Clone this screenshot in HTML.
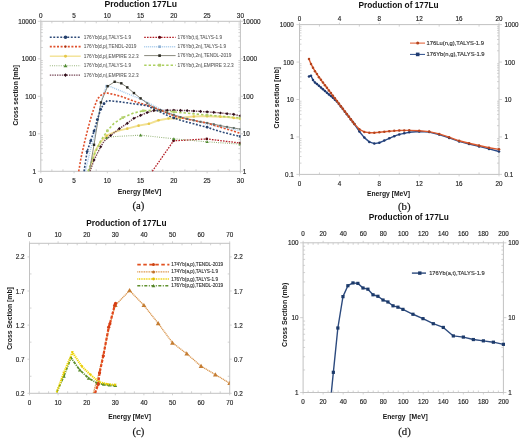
<!DOCTYPE html>
<html><head><meta charset="utf-8"><style>
html,body{margin:0;padding:0;background:#fff;width:520px;height:438px;overflow:hidden}
svg{display:block;filter:blur(0.35px)}
</style></head><body>
<svg width="520" height="438" viewBox="0 0 520 438">
<rect width="520" height="438" fill="#fff"/>
<g>
<line x1="40.8" y1="171.3" x2="40.8" y2="173.3" stroke="#c8c8c8" stroke-width="0.8"/>
<line x1="40.8" y1="21.3" x2="40.8" y2="19.3" stroke="#c8c8c8" stroke-width="0.8"/>
<line x1="51.89" y1="171.3" x2="51.89" y2="169.3" stroke="#c8c8c8" stroke-width="0.8"/>
<line x1="51.89" y1="21.3" x2="51.89" y2="23.3" stroke="#c8c8c8" stroke-width="0.8"/>
<line x1="62.98" y1="171.3" x2="62.98" y2="169.3" stroke="#c8c8c8" stroke-width="0.8"/>
<line x1="62.98" y1="21.3" x2="62.98" y2="23.3" stroke="#c8c8c8" stroke-width="0.8"/>
<line x1="74.06" y1="171.3" x2="74.06" y2="173.3" stroke="#c8c8c8" stroke-width="0.8"/>
<line x1="74.06" y1="21.3" x2="74.06" y2="19.3" stroke="#c8c8c8" stroke-width="0.8"/>
<line x1="85.15" y1="171.3" x2="85.15" y2="169.3" stroke="#c8c8c8" stroke-width="0.8"/>
<line x1="85.15" y1="21.3" x2="85.15" y2="23.3" stroke="#c8c8c8" stroke-width="0.8"/>
<line x1="96.24" y1="171.3" x2="96.24" y2="169.3" stroke="#c8c8c8" stroke-width="0.8"/>
<line x1="96.24" y1="21.3" x2="96.24" y2="23.3" stroke="#c8c8c8" stroke-width="0.8"/>
<line x1="107.33" y1="171.3" x2="107.33" y2="173.3" stroke="#c8c8c8" stroke-width="0.8"/>
<line x1="107.33" y1="21.3" x2="107.33" y2="19.3" stroke="#c8c8c8" stroke-width="0.8"/>
<line x1="118.42" y1="171.3" x2="118.42" y2="169.3" stroke="#c8c8c8" stroke-width="0.8"/>
<line x1="118.42" y1="21.3" x2="118.42" y2="23.3" stroke="#c8c8c8" stroke-width="0.8"/>
<line x1="129.51" y1="171.3" x2="129.51" y2="169.3" stroke="#c8c8c8" stroke-width="0.8"/>
<line x1="129.51" y1="21.3" x2="129.51" y2="23.3" stroke="#c8c8c8" stroke-width="0.8"/>
<line x1="140.59" y1="171.3" x2="140.59" y2="173.3" stroke="#c8c8c8" stroke-width="0.8"/>
<line x1="140.59" y1="21.3" x2="140.59" y2="19.3" stroke="#c8c8c8" stroke-width="0.8"/>
<line x1="151.68" y1="171.3" x2="151.68" y2="169.3" stroke="#c8c8c8" stroke-width="0.8"/>
<line x1="151.68" y1="21.3" x2="151.68" y2="23.3" stroke="#c8c8c8" stroke-width="0.8"/>
<line x1="162.77" y1="171.3" x2="162.77" y2="169.3" stroke="#c8c8c8" stroke-width="0.8"/>
<line x1="162.77" y1="21.3" x2="162.77" y2="23.3" stroke="#c8c8c8" stroke-width="0.8"/>
<line x1="173.86" y1="171.3" x2="173.86" y2="173.3" stroke="#c8c8c8" stroke-width="0.8"/>
<line x1="173.86" y1="21.3" x2="173.86" y2="19.3" stroke="#c8c8c8" stroke-width="0.8"/>
<line x1="184.95" y1="171.3" x2="184.95" y2="169.3" stroke="#c8c8c8" stroke-width="0.8"/>
<line x1="184.95" y1="21.3" x2="184.95" y2="23.3" stroke="#c8c8c8" stroke-width="0.8"/>
<line x1="196.04" y1="171.3" x2="196.04" y2="169.3" stroke="#c8c8c8" stroke-width="0.8"/>
<line x1="196.04" y1="21.3" x2="196.04" y2="23.3" stroke="#c8c8c8" stroke-width="0.8"/>
<line x1="207.12" y1="171.3" x2="207.12" y2="173.3" stroke="#c8c8c8" stroke-width="0.8"/>
<line x1="207.12" y1="21.3" x2="207.12" y2="19.3" stroke="#c8c8c8" stroke-width="0.8"/>
<line x1="218.21" y1="171.3" x2="218.21" y2="169.3" stroke="#c8c8c8" stroke-width="0.8"/>
<line x1="218.21" y1="21.3" x2="218.21" y2="23.3" stroke="#c8c8c8" stroke-width="0.8"/>
<line x1="229.3" y1="171.3" x2="229.3" y2="169.3" stroke="#c8c8c8" stroke-width="0.8"/>
<line x1="229.3" y1="21.3" x2="229.3" y2="23.3" stroke="#c8c8c8" stroke-width="0.8"/>
<line x1="240.39" y1="171.3" x2="240.39" y2="173.3" stroke="#c8c8c8" stroke-width="0.8"/>
<line x1="240.39" y1="21.3" x2="240.39" y2="19.3" stroke="#c8c8c8" stroke-width="0.8"/>
<line x1="40.8" y1="160.01" x2="42.8" y2="160.01" stroke="#c8c8c8" stroke-width="0.8"/>
<line x1="240.4" y1="160.01" x2="238.4" y2="160.01" stroke="#c8c8c8" stroke-width="0.8"/>
<line x1="40.8" y1="153.41" x2="42.8" y2="153.41" stroke="#c8c8c8" stroke-width="0.8"/>
<line x1="240.4" y1="153.41" x2="238.4" y2="153.41" stroke="#c8c8c8" stroke-width="0.8"/>
<line x1="40.8" y1="148.72" x2="42.8" y2="148.72" stroke="#c8c8c8" stroke-width="0.8"/>
<line x1="240.4" y1="148.72" x2="238.4" y2="148.72" stroke="#c8c8c8" stroke-width="0.8"/>
<line x1="40.8" y1="145.09" x2="42.8" y2="145.09" stroke="#c8c8c8" stroke-width="0.8"/>
<line x1="240.4" y1="145.09" x2="238.4" y2="145.09" stroke="#c8c8c8" stroke-width="0.8"/>
<line x1="40.8" y1="142.12" x2="42.8" y2="142.12" stroke="#c8c8c8" stroke-width="0.8"/>
<line x1="240.4" y1="142.12" x2="238.4" y2="142.12" stroke="#c8c8c8" stroke-width="0.8"/>
<line x1="40.8" y1="139.61" x2="42.8" y2="139.61" stroke="#c8c8c8" stroke-width="0.8"/>
<line x1="240.4" y1="139.61" x2="238.4" y2="139.61" stroke="#c8c8c8" stroke-width="0.8"/>
<line x1="40.8" y1="137.43" x2="42.8" y2="137.43" stroke="#c8c8c8" stroke-width="0.8"/>
<line x1="240.4" y1="137.43" x2="238.4" y2="137.43" stroke="#c8c8c8" stroke-width="0.8"/>
<line x1="40.8" y1="135.52" x2="42.8" y2="135.52" stroke="#c8c8c8" stroke-width="0.8"/>
<line x1="240.4" y1="135.52" x2="238.4" y2="135.52" stroke="#c8c8c8" stroke-width="0.8"/>
<line x1="40.8" y1="122.51" x2="42.8" y2="122.51" stroke="#c8c8c8" stroke-width="0.8"/>
<line x1="240.4" y1="122.51" x2="238.4" y2="122.51" stroke="#c8c8c8" stroke-width="0.8"/>
<line x1="40.8" y1="115.91" x2="42.8" y2="115.91" stroke="#c8c8c8" stroke-width="0.8"/>
<line x1="240.4" y1="115.91" x2="238.4" y2="115.91" stroke="#c8c8c8" stroke-width="0.8"/>
<line x1="40.8" y1="111.22" x2="42.8" y2="111.22" stroke="#c8c8c8" stroke-width="0.8"/>
<line x1="240.4" y1="111.22" x2="238.4" y2="111.22" stroke="#c8c8c8" stroke-width="0.8"/>
<line x1="40.8" y1="107.59" x2="42.8" y2="107.59" stroke="#c8c8c8" stroke-width="0.8"/>
<line x1="240.4" y1="107.59" x2="238.4" y2="107.59" stroke="#c8c8c8" stroke-width="0.8"/>
<line x1="40.8" y1="104.62" x2="42.8" y2="104.62" stroke="#c8c8c8" stroke-width="0.8"/>
<line x1="240.4" y1="104.62" x2="238.4" y2="104.62" stroke="#c8c8c8" stroke-width="0.8"/>
<line x1="40.8" y1="102.11" x2="42.8" y2="102.11" stroke="#c8c8c8" stroke-width="0.8"/>
<line x1="240.4" y1="102.11" x2="238.4" y2="102.11" stroke="#c8c8c8" stroke-width="0.8"/>
<line x1="40.8" y1="99.93" x2="42.8" y2="99.93" stroke="#c8c8c8" stroke-width="0.8"/>
<line x1="240.4" y1="99.93" x2="238.4" y2="99.93" stroke="#c8c8c8" stroke-width="0.8"/>
<line x1="40.8" y1="98.02" x2="42.8" y2="98.02" stroke="#c8c8c8" stroke-width="0.8"/>
<line x1="240.4" y1="98.02" x2="238.4" y2="98.02" stroke="#c8c8c8" stroke-width="0.8"/>
<line x1="40.8" y1="85.01" x2="42.8" y2="85.01" stroke="#c8c8c8" stroke-width="0.8"/>
<line x1="240.4" y1="85.01" x2="238.4" y2="85.01" stroke="#c8c8c8" stroke-width="0.8"/>
<line x1="40.8" y1="78.41" x2="42.8" y2="78.41" stroke="#c8c8c8" stroke-width="0.8"/>
<line x1="240.4" y1="78.41" x2="238.4" y2="78.41" stroke="#c8c8c8" stroke-width="0.8"/>
<line x1="40.8" y1="73.72" x2="42.8" y2="73.72" stroke="#c8c8c8" stroke-width="0.8"/>
<line x1="240.4" y1="73.72" x2="238.4" y2="73.72" stroke="#c8c8c8" stroke-width="0.8"/>
<line x1="40.8" y1="70.09" x2="42.8" y2="70.09" stroke="#c8c8c8" stroke-width="0.8"/>
<line x1="240.4" y1="70.09" x2="238.4" y2="70.09" stroke="#c8c8c8" stroke-width="0.8"/>
<line x1="40.8" y1="67.12" x2="42.8" y2="67.12" stroke="#c8c8c8" stroke-width="0.8"/>
<line x1="240.4" y1="67.12" x2="238.4" y2="67.12" stroke="#c8c8c8" stroke-width="0.8"/>
<line x1="40.8" y1="64.61" x2="42.8" y2="64.61" stroke="#c8c8c8" stroke-width="0.8"/>
<line x1="240.4" y1="64.61" x2="238.4" y2="64.61" stroke="#c8c8c8" stroke-width="0.8"/>
<line x1="40.8" y1="62.43" x2="42.8" y2="62.43" stroke="#c8c8c8" stroke-width="0.8"/>
<line x1="240.4" y1="62.43" x2="238.4" y2="62.43" stroke="#c8c8c8" stroke-width="0.8"/>
<line x1="40.8" y1="60.52" x2="42.8" y2="60.52" stroke="#c8c8c8" stroke-width="0.8"/>
<line x1="240.4" y1="60.52" x2="238.4" y2="60.52" stroke="#c8c8c8" stroke-width="0.8"/>
<line x1="40.8" y1="47.51" x2="42.8" y2="47.51" stroke="#c8c8c8" stroke-width="0.8"/>
<line x1="240.4" y1="47.51" x2="238.4" y2="47.51" stroke="#c8c8c8" stroke-width="0.8"/>
<line x1="40.8" y1="40.91" x2="42.8" y2="40.91" stroke="#c8c8c8" stroke-width="0.8"/>
<line x1="240.4" y1="40.91" x2="238.4" y2="40.91" stroke="#c8c8c8" stroke-width="0.8"/>
<line x1="40.8" y1="36.22" x2="42.8" y2="36.22" stroke="#c8c8c8" stroke-width="0.8"/>
<line x1="240.4" y1="36.22" x2="238.4" y2="36.22" stroke="#c8c8c8" stroke-width="0.8"/>
<line x1="40.8" y1="32.59" x2="42.8" y2="32.59" stroke="#c8c8c8" stroke-width="0.8"/>
<line x1="240.4" y1="32.59" x2="238.4" y2="32.59" stroke="#c8c8c8" stroke-width="0.8"/>
<line x1="40.8" y1="29.62" x2="42.8" y2="29.62" stroke="#c8c8c8" stroke-width="0.8"/>
<line x1="240.4" y1="29.62" x2="238.4" y2="29.62" stroke="#c8c8c8" stroke-width="0.8"/>
<line x1="40.8" y1="27.11" x2="42.8" y2="27.11" stroke="#c8c8c8" stroke-width="0.8"/>
<line x1="240.4" y1="27.11" x2="238.4" y2="27.11" stroke="#c8c8c8" stroke-width="0.8"/>
<line x1="40.8" y1="24.93" x2="42.8" y2="24.93" stroke="#c8c8c8" stroke-width="0.8"/>
<line x1="240.4" y1="24.93" x2="238.4" y2="24.93" stroke="#c8c8c8" stroke-width="0.8"/>
<line x1="40.8" y1="23.02" x2="42.8" y2="23.02" stroke="#c8c8c8" stroke-width="0.8"/>
<line x1="240.4" y1="23.02" x2="238.4" y2="23.02" stroke="#c8c8c8" stroke-width="0.8"/>
<line x1="37.8" y1="171.3" x2="40.8" y2="171.3" stroke="#c8c8c8" stroke-width="0.8"/>
<line x1="240.4" y1="171.3" x2="243.4" y2="171.3" stroke="#c8c8c8" stroke-width="0.8"/>
<line x1="37.8" y1="133.8" x2="40.8" y2="133.8" stroke="#c8c8c8" stroke-width="0.8"/>
<line x1="240.4" y1="133.8" x2="243.4" y2="133.8" stroke="#c8c8c8" stroke-width="0.8"/>
<line x1="37.8" y1="96.3" x2="40.8" y2="96.3" stroke="#c8c8c8" stroke-width="0.8"/>
<line x1="240.4" y1="96.3" x2="243.4" y2="96.3" stroke="#c8c8c8" stroke-width="0.8"/>
<line x1="37.8" y1="58.8" x2="40.8" y2="58.8" stroke="#c8c8c8" stroke-width="0.8"/>
<line x1="240.4" y1="58.8" x2="243.4" y2="58.8" stroke="#c8c8c8" stroke-width="0.8"/>
<line x1="37.8" y1="21.3" x2="40.8" y2="21.3" stroke="#c8c8c8" stroke-width="0.8"/>
<line x1="240.4" y1="21.3" x2="243.4" y2="21.3" stroke="#c8c8c8" stroke-width="0.8"/>
<rect x="40.8" y="21.3" width="199.6" height="150" fill="none" stroke="#c2c2c2" stroke-width="1"/>
<text x="40.8" y="15.4" font-family="'Liberation Sans', sans-serif" font-size="6.4" font-weight="normal" text-anchor="middle" dominant-baseline="central" fill="#1e1e1e" stroke="#1e1e1e" stroke-width="0.15">0</text>
<text x="40.8" y="180" font-family="'Liberation Sans', sans-serif" font-size="6.4" font-weight="normal" text-anchor="middle" dominant-baseline="central" fill="#1e1e1e" stroke="#1e1e1e" stroke-width="0.15">0</text>
<text x="74.06" y="15.4" font-family="'Liberation Sans', sans-serif" font-size="6.4" font-weight="normal" text-anchor="middle" dominant-baseline="central" fill="#1e1e1e" stroke="#1e1e1e" stroke-width="0.15">5</text>
<text x="74.06" y="180" font-family="'Liberation Sans', sans-serif" font-size="6.4" font-weight="normal" text-anchor="middle" dominant-baseline="central" fill="#1e1e1e" stroke="#1e1e1e" stroke-width="0.15">5</text>
<text x="107.33" y="15.4" font-family="'Liberation Sans', sans-serif" font-size="6.4" font-weight="normal" text-anchor="middle" dominant-baseline="central" fill="#1e1e1e" stroke="#1e1e1e" stroke-width="0.15">10</text>
<text x="107.33" y="180" font-family="'Liberation Sans', sans-serif" font-size="6.4" font-weight="normal" text-anchor="middle" dominant-baseline="central" fill="#1e1e1e" stroke="#1e1e1e" stroke-width="0.15">10</text>
<text x="140.59" y="15.4" font-family="'Liberation Sans', sans-serif" font-size="6.4" font-weight="normal" text-anchor="middle" dominant-baseline="central" fill="#1e1e1e" stroke="#1e1e1e" stroke-width="0.15">15</text>
<text x="140.59" y="180" font-family="'Liberation Sans', sans-serif" font-size="6.4" font-weight="normal" text-anchor="middle" dominant-baseline="central" fill="#1e1e1e" stroke="#1e1e1e" stroke-width="0.15">15</text>
<text x="173.86" y="15.4" font-family="'Liberation Sans', sans-serif" font-size="6.4" font-weight="normal" text-anchor="middle" dominant-baseline="central" fill="#1e1e1e" stroke="#1e1e1e" stroke-width="0.15">20</text>
<text x="173.86" y="180" font-family="'Liberation Sans', sans-serif" font-size="6.4" font-weight="normal" text-anchor="middle" dominant-baseline="central" fill="#1e1e1e" stroke="#1e1e1e" stroke-width="0.15">20</text>
<text x="207.12" y="15.4" font-family="'Liberation Sans', sans-serif" font-size="6.4" font-weight="normal" text-anchor="middle" dominant-baseline="central" fill="#1e1e1e" stroke="#1e1e1e" stroke-width="0.15">25</text>
<text x="207.12" y="180" font-family="'Liberation Sans', sans-serif" font-size="6.4" font-weight="normal" text-anchor="middle" dominant-baseline="central" fill="#1e1e1e" stroke="#1e1e1e" stroke-width="0.15">25</text>
<text x="240.39" y="15.4" font-family="'Liberation Sans', sans-serif" font-size="6.4" font-weight="normal" text-anchor="middle" dominant-baseline="central" fill="#1e1e1e" stroke="#1e1e1e" stroke-width="0.15">30</text>
<text x="240.39" y="180" font-family="'Liberation Sans', sans-serif" font-size="6.4" font-weight="normal" text-anchor="middle" dominant-baseline="central" fill="#1e1e1e" stroke="#1e1e1e" stroke-width="0.15">30</text>
<text x="36" y="171.3" font-family="'Liberation Sans', sans-serif" font-size="6.4" font-weight="normal" text-anchor="end" dominant-baseline="central" fill="#1e1e1e" stroke="#1e1e1e" stroke-width="0.15">1</text>
<text x="242.8" y="171.3" font-family="'Liberation Sans', sans-serif" font-size="6.4" font-weight="normal" text-anchor="start" dominant-baseline="central" fill="#1e1e1e" stroke="#1e1e1e" stroke-width="0.15">1</text>
<text x="36" y="133.8" font-family="'Liberation Sans', sans-serif" font-size="6.4" font-weight="normal" text-anchor="end" dominant-baseline="central" fill="#1e1e1e" stroke="#1e1e1e" stroke-width="0.15">10</text>
<text x="242.8" y="133.8" font-family="'Liberation Sans', sans-serif" font-size="6.4" font-weight="normal" text-anchor="start" dominant-baseline="central" fill="#1e1e1e" stroke="#1e1e1e" stroke-width="0.15">10</text>
<text x="36" y="96.3" font-family="'Liberation Sans', sans-serif" font-size="6.4" font-weight="normal" text-anchor="end" dominant-baseline="central" fill="#1e1e1e" stroke="#1e1e1e" stroke-width="0.15">100</text>
<text x="242.8" y="96.3" font-family="'Liberation Sans', sans-serif" font-size="6.4" font-weight="normal" text-anchor="start" dominant-baseline="central" fill="#1e1e1e" stroke="#1e1e1e" stroke-width="0.15">100</text>
<text x="36" y="58.8" font-family="'Liberation Sans', sans-serif" font-size="6.4" font-weight="normal" text-anchor="end" dominant-baseline="central" fill="#1e1e1e" stroke="#1e1e1e" stroke-width="0.15">1000</text>
<text x="242.8" y="58.8" font-family="'Liberation Sans', sans-serif" font-size="6.4" font-weight="normal" text-anchor="start" dominant-baseline="central" fill="#1e1e1e" stroke="#1e1e1e" stroke-width="0.15">1000</text>
<text x="36" y="21.3" font-family="'Liberation Sans', sans-serif" font-size="6.4" font-weight="normal" text-anchor="end" dominant-baseline="central" fill="#1e1e1e" stroke="#1e1e1e" stroke-width="0.15">10000</text>
<text x="242.8" y="21.3" font-family="'Liberation Sans', sans-serif" font-size="6.4" font-weight="normal" text-anchor="start" dominant-baseline="central" fill="#1e1e1e" stroke="#1e1e1e" stroke-width="0.15">10000</text>
<text x="140.7" y="4.3" font-family="'Liberation Sans', sans-serif" font-size="8.6" font-weight="bold" text-anchor="middle" dominant-baseline="central" fill="#111">Production 177Lu</text>
<text x="139.5" y="191.5" font-family="'Liberation Sans', sans-serif" font-size="6.8" font-weight="bold" text-anchor="middle" dominant-baseline="central" fill="#151515">Energy [MeV]</text>
<text x="15.2" y="95.2" font-family="'Liberation Sans', sans-serif" font-size="6.7" font-weight="bold" text-anchor="middle" dominant-baseline="central" fill="#151515" transform="rotate(-90 15.2 95.2)">Cross section [mb]</text>
<text x="0" y="0" font-family="'Liberation Serif', serif" font-size="11.0" font-weight="normal" text-anchor="middle" dominant-baseline="central" fill="#151515" transform="translate(138.45 205.3) scale(0.98 1)" stroke="#151515" stroke-width="0.2">(a)</text>
</g>
<g>
<clipPath id="cpa"><rect x="40.8" y="21.3" width="199.60000000000002" height="150.5"/></clipPath>
<g clip-path="url(#cpa)">
<polyline points="152.3,171.3 173.53,140.82 206.79,138.93 240.39,143.1" fill="none" stroke="#b41e26" stroke-width="1.3" stroke-dasharray="1.6,1.2" stroke-linejoin="round"/>
<polyline points="88.7,171.3 94.02,153.41 100.68,140.82 106.66,137.43 113.98,136.64 120.64,136.26 127.29,135.88 133.94,135.52 140.59,135.16 173.86,138.81 207.12,141.85 240.39,144.14" fill="none" stroke="#8fae70" stroke-width="1.1" stroke-dasharray="0.9,1.3" stroke-linejoin="round"/>
<polyline points="89.37,171.3 95.35,150.44 100.68,142.12 106.66,135.7 113.98,132.25 120.64,130.17 127.29,128.67 138.6,125.64 148.91,123.78 158.56,120.24 168.54,118.55 173.86,118.55 180.51,117.93 187.17,117.03 193.82,116.46 200.47,116.18 207.12,116.18 213.78,116.46 220.43,116.74 227.08,117.03 233.74,117.93 240.39,118.88" fill="none" stroke="#f2e192" stroke-width="1.9" stroke-linejoin="round"/>
<polyline points="90.03,171.3 94.02,160.01 100.68,146.8 104,141.32 110.66,135.52 119.31,128.67 127.29,123.35 133.94,118.24 140.59,115.37 147.25,112.49 153.9,110.62 160.55,110.43 167.21,110.24 173.86,110.24 180.51,110.43 187.17,110.62 193.82,111.02 200.47,111.43 207.12,111.85 213.78,112.36 220.43,112.94 227.08,113.63 233.74,114.36 240.39,115.91" fill="none" stroke="#744454" stroke-width="1.4" stroke-dasharray="1.4,1" stroke-linejoin="round"/>
<polyline points="88.04,171.3 94.02,155.12 100.68,140.82 107.33,130.83 113.98,123.35 122.63,117.62 133.94,112.94 143.26,110.82 152.57,110.24 160.55,110.62 173.86,111.85 207.12,115.11 240.39,117.93" fill="none" stroke="#acd060" stroke-width="1.6" stroke-dasharray="2.4,2" stroke-linejoin="round"/>
<polyline points="85.38,171.3 90.7,148.72 94.02,137.43 97.35,122.51 100.68,104.62 104,92.03 106.66,86.02 110.66,86.73 113.98,88.14 120.64,90.82 127.29,93.6 133.94,96.3 140.59,98.95 147.25,102.11 160.55,109.3 173.86,114.86 207.12,124.23 240.39,130.83" fill="none" stroke="#a2c8ea" stroke-width="1.4" stroke-dasharray="1,1" stroke-linejoin="round"/>
<polyline points="89.37,171.3 94.02,144.77 100.88,102.44 107.66,86.19 114.65,81.77 121.3,83.31 127.29,87.37 133.94,93.06 140.59,98.38 147.25,103.32 153.9,107.59 160.55,110.43 167.21,112.94 173.86,114.86 180.51,117.03 187.17,118.88 193.82,120.24 200.47,121.72 207.12,122.92 213.78,124.23 220.43,125.64 227.08,126.87 233.74,127.97 240.39,129.16" fill="none" stroke="#88887c" stroke-width="1.0" stroke-linejoin="round"/>
<polyline points="78.72,171.3 81.05,157.74 84.71,141.32 88.04,128.32 91.36,116.13 94.36,106.95 97.35,99 100.68,95.51 104,93.33 107.33,93.06 113.98,94.45 120.64,96.3 127.29,98.76 133.94,101.2 140.59,103.32 147.25,105.17 153.9,107.59 160.55,110.04 167.21,112.94 173.86,115.91 180.51,117.62 187.17,119.21 193.82,120.59 200.47,121.87 207.12,123.01 213.78,125.16 220.43,127.2 227.08,129.16 233.74,131.24 240.39,133.32" fill="none" stroke="#e0502c" stroke-width="1.6" stroke-dasharray="2,1.6" stroke-linejoin="round"/>
<polyline points="84.04,171.3 87.1,151.61 90.7,140.82 94.02,131.1 97.35,119.54 100.68,109.3 104,103.64 107.33,100.56 113.98,101.2 120.64,101.88 127.29,102.82 133.94,103.82 140.59,104.62 147.25,105.74 153.9,108.95 160.55,112.06 167.21,115.37 173.86,117.93 180.51,120.24 187.17,122.11 193.82,123.78 200.47,125.64 207.12,127.2 213.78,129.53 220.43,131.52 227.08,133.32 233.74,134.98 240.39,136.45" fill="none" stroke="#2e4a78" stroke-width="1.6" stroke-dasharray="1.9,1.6" stroke-linejoin="round"/>
<circle cx="173.53" cy="140.82" r="1.4" fill="#5a0a14"/>
<circle cx="206.79" cy="138.93" r="1.4" fill="#5a0a14"/>
<circle cx="240.39" cy="143.1" r="1.4" fill="#5a0a14"/>
<polygon points="106.66,135.75 108.34,138.69 104.98,138.69" fill="#4f8a30"/>
<polygon points="140.59,133.48 142.27,136.42 138.91,136.42" fill="#4f8a30"/>
<polygon points="173.86,137.13 175.54,140.07 172.18,140.07" fill="#4f8a30"/>
<polygon points="207.12,140.17 208.81,143.11 205.44,143.11" fill="#4f8a30"/>
<polygon points="240.39,142.46 242.07,145.4 238.71,145.4" fill="#4f8a30"/>
<circle cx="106.66" cy="135.7" r="1.3" fill="#e6c84a"/>
<circle cx="127.29" cy="128.67" r="1.3" fill="#e6c84a"/>
<circle cx="138.6" cy="125.64" r="1.3" fill="#e6c84a"/>
<circle cx="148.91" cy="123.78" r="1.3" fill="#e6c84a"/>
<circle cx="158.56" cy="120.24" r="1.3" fill="#e6c84a"/>
<circle cx="168.54" cy="118.55" r="1.3" fill="#e6c84a"/>
<circle cx="180.51" cy="117.93" r="1.3" fill="#e6c84a"/>
<circle cx="193.82" cy="116.46" r="1.3" fill="#e6c84a"/>
<circle cx="207.12" cy="116.18" r="1.3" fill="#e6c84a"/>
<circle cx="220.43" cy="116.74" r="1.3" fill="#e6c84a"/>
<circle cx="233.74" cy="117.93" r="1.3" fill="#e6c84a"/>
<circle cx="240.39" cy="118.88" r="1.3" fill="#e6c84a"/>
<polygon points="94.02,158.45 95.58,160.01 94.02,161.57 92.46,160.01" fill="#2e0c18"/>
<polygon points="100.68,145.24 102.24,146.8 100.68,148.36 99.12,146.8" fill="#2e0c18"/>
<polygon points="110.66,133.96 112.22,135.52 110.66,137.08 109.1,135.52" fill="#2e0c18"/>
<polygon points="119.31,127.11 120.87,128.67 119.31,130.23 117.75,128.67" fill="#2e0c18"/>
<polygon points="127.29,121.79 128.85,123.35 127.29,124.91 125.73,123.35" fill="#2e0c18"/>
<polygon points="133.94,116.68 135.5,118.24 133.94,119.8 132.38,118.24" fill="#2e0c18"/>
<polygon points="140.59,113.81 142.15,115.37 140.59,116.93 139.03,115.37" fill="#2e0c18"/>
<polygon points="147.25,110.93 148.81,112.49 147.25,114.05 145.69,112.49" fill="#2e0c18"/>
<polygon points="153.9,109.06 155.46,110.62 153.9,112.18 152.34,110.62" fill="#2e0c18"/>
<polygon points="160.55,108.87 162.11,110.43 160.55,111.99 158.99,110.43" fill="#2e0c18"/>
<polygon points="167.21,108.68 168.77,110.24 167.21,111.8 165.65,110.24" fill="#2e0c18"/>
<polygon points="173.86,108.68 175.42,110.24 173.86,111.8 172.3,110.24" fill="#2e0c18"/>
<polygon points="180.51,108.87 182.07,110.43 180.51,111.99 178.95,110.43" fill="#2e0c18"/>
<polygon points="187.17,109.06 188.73,110.62 187.17,112.18 185.61,110.62" fill="#2e0c18"/>
<polygon points="193.82,109.46 195.38,111.02 193.82,112.58 192.26,111.02" fill="#2e0c18"/>
<polygon points="200.47,109.87 202.03,111.43 200.47,112.99 198.91,111.43" fill="#2e0c18"/>
<polygon points="207.12,110.29 208.69,111.85 207.12,113.41 205.56,111.85" fill="#2e0c18"/>
<polygon points="213.78,110.8 215.34,112.36 213.78,113.92 212.22,112.36" fill="#2e0c18"/>
<polygon points="220.43,111.38 221.99,112.94 220.43,114.5 218.87,112.94" fill="#2e0c18"/>
<polygon points="227.08,112.07 228.64,113.63 227.08,115.19 225.52,113.63" fill="#2e0c18"/>
<polygon points="233.74,112.8 235.3,114.36 233.74,115.92 232.18,114.36" fill="#2e0c18"/>
<polygon points="240.39,114.35 241.95,115.91 240.39,117.47 238.83,115.91" fill="#2e0c18"/>
<rect x="106.03" y="129.53" width="2.6" height="2.6" fill="#b4d070"/>
<rect x="121.33" y="116.32" width="2.6" height="2.6" fill="#b4d070"/>
<rect x="141.96" y="109.52" width="2.6" height="2.6" fill="#b4d070"/>
<rect x="172.56" y="110.55" width="2.6" height="2.6" fill="#b4d070"/>
<rect x="205.82" y="113.81" width="2.6" height="2.6" fill="#b4d070"/>
<rect x="239.09" y="116.63" width="2.6" height="2.6" fill="#b4d070"/>
<rect x="105.46" y="84.82" width="2.4" height="2.4" fill="#8fb0d2"/>
<rect x="92.82" y="143.57" width="2.4" height="2.4" fill="#2a2a22"/>
<rect x="99.68" y="101.24" width="2.4" height="2.4" fill="#2a2a22"/>
<rect x="106.46" y="84.99" width="2.4" height="2.4" fill="#2a2a22"/>
<rect x="113.45" y="80.57" width="2.4" height="2.4" fill="#2a2a22"/>
<rect x="120.1" y="82.11" width="2.4" height="2.4" fill="#2a2a22"/>
<rect x="126.09" y="86.17" width="2.4" height="2.4" fill="#2a2a22"/>
<rect x="132.74" y="91.86" width="2.4" height="2.4" fill="#2a2a22"/>
<rect x="139.39" y="97.18" width="2.4" height="2.4" fill="#2a2a22"/>
<rect x="146.25" y="102.32" width="2" height="2" fill="#5a6a66"/>
<rect x="152.9" y="106.59" width="2" height="2" fill="#5a6a66"/>
<rect x="159.55" y="109.43" width="2" height="2" fill="#5a6a66"/>
<rect x="166.21" y="111.94" width="2" height="2" fill="#5a6a66"/>
<rect x="172.86" y="113.86" width="2" height="2" fill="#5a6a66"/>
<rect x="179.51" y="116.03" width="2" height="2" fill="#5a6a66"/>
<rect x="186.17" y="117.88" width="2" height="2" fill="#5a6a66"/>
<rect x="192.82" y="119.24" width="2" height="2" fill="#5a6a66"/>
<rect x="199.47" y="120.72" width="2" height="2" fill="#5a6a66"/>
<rect x="206.12" y="121.92" width="2" height="2" fill="#5a6a66"/>
<rect x="212.78" y="123.23" width="2" height="2" fill="#5a6a66"/>
<rect x="219.43" y="124.64" width="2" height="2" fill="#5a6a66"/>
<rect x="226.08" y="125.87" width="2" height="2" fill="#5a6a66"/>
<rect x="232.74" y="126.97" width="2" height="2" fill="#5a6a66"/>
<rect x="239.39" y="128.16" width="2" height="2" fill="#5a6a66"/>
<circle cx="87.1" cy="151.61" r="1.4" fill="#233f6c"/>
<circle cx="90.7" cy="140.82" r="1.4" fill="#233f6c"/>
<circle cx="94.02" cy="131.1" r="1.4" fill="#233f6c"/>
<circle cx="97.35" cy="119.54" r="1.4" fill="#233f6c"/>
<circle cx="100.68" cy="109.3" r="1.4" fill="#233f6c"/>
<circle cx="104" cy="103.64" r="1.4" fill="#233f6c"/>
<circle cx="173.86" cy="117.93" r="1.4" fill="#233f6c"/>
<circle cx="207.12" cy="127.2" r="1.4" fill="#233f6c"/>
<circle cx="240.39" cy="136.45" r="1.4" fill="#233f6c"/>
</g>
<polyline points="49.8,37.2 80.7,37.2" fill="none" stroke="#2e4a78" stroke-width="1.6" stroke-dasharray="1.9,1.6" stroke-linejoin="round"/>
<circle cx="65.5" cy="37.2" r="1.8" fill="#233f6c"/>
<text x="83.8" y="37.2" font-family="'Liberation Sans', sans-serif" font-size="4.75" font-weight="normal" text-anchor="start" dominant-baseline="central" fill="#555" stroke="#555" stroke-width="0.05">176Yb(d,p),TALYS-1.9</text>
<polyline points="49.8,46.6 80.7,46.6" fill="none" stroke="#e0502c" stroke-width="1.6" stroke-dasharray="2,1.6" stroke-linejoin="round"/>
<circle cx="65.5" cy="46.6" r="1.15" fill="#a0300f"/>
<text x="83.8" y="46.6" font-family="'Liberation Sans', sans-serif" font-size="4.75" font-weight="normal" text-anchor="start" dominant-baseline="central" fill="#555" stroke="#555" stroke-width="0.05">176Yb(d,p),TENDL-2019</text>
<polyline points="49.8,56.2 80.7,56.2" fill="none" stroke="#f2e192" stroke-width="1.4" stroke-linejoin="round"/>
<circle cx="65.5" cy="56.2" r="1.4949999999999999" fill="#e6c84a"/>
<text x="83.8" y="56.2" font-family="'Liberation Sans', sans-serif" font-size="4.75" font-weight="normal" text-anchor="start" dominant-baseline="central" fill="#555" stroke="#555" stroke-width="0.05">176Yb(d,p),EMPIRE 3.2.3</text>
<polyline points="49.8,65.7 80.7,65.7" fill="none" stroke="#8fae70" stroke-width="1.1" stroke-dasharray="0.9,1.3" stroke-linejoin="round"/>
<polygon points="65.5,63.77 67.43,67.15 63.57,67.15" fill="#4f8a30"/>
<text x="83.8" y="65.7" font-family="'Liberation Sans', sans-serif" font-size="4.75" font-weight="normal" text-anchor="start" dominant-baseline="central" fill="#555" stroke="#555" stroke-width="0.05">176Yb(d,n),TALYS-1.9</text>
<polyline points="49.8,75.1 80.7,75.1" fill="none" stroke="#744454" stroke-width="1.4" stroke-dasharray="1.4,1" stroke-linejoin="round"/>
<polygon points="65.5,73.31 67.29,75.1 65.5,76.89 63.71,75.1" fill="#2e0c18"/>
<text x="83.8" y="75.1" font-family="'Liberation Sans', sans-serif" font-size="4.75" font-weight="normal" text-anchor="start" dominant-baseline="central" fill="#555" stroke="#555" stroke-width="0.05">176Yb(d,n),EMPIRE 3.2.3</text>
<polyline points="144.2,37.3 175.6,37.3" fill="none" stroke="#b41e26" stroke-width="1.3" stroke-dasharray="1.6,1.2" stroke-linejoin="round"/>
<circle cx="159.6" cy="37.3" r="1.54" fill="#5a0a14"/>
<text x="177.5" y="37.3" font-family="'Liberation Sans', sans-serif" font-size="4.75" font-weight="normal" text-anchor="start" dominant-baseline="central" fill="#555" stroke="#555" stroke-width="0.05">176Yb(t,t),TALYS-1.9</text>
<polyline points="144.2,46.7 175.6,46.7" fill="none" stroke="#a2c8ea" stroke-width="1.4" stroke-dasharray="1,1" stroke-linejoin="round"/>
<rect x="158.28" y="45.38" width="2.64" height="2.64" fill="#8fb0d2"/>
<text x="177.5" y="46.7" font-family="'Liberation Sans', sans-serif" font-size="4.75" font-weight="normal" text-anchor="start" dominant-baseline="central" fill="#555" stroke="#555" stroke-width="0.05">176Yb(t,2n),TALYS-1.9</text>
<polyline points="144.2,55.6 175.6,55.6" fill="none" stroke="#88887c" stroke-width="1.0" stroke-linejoin="round"/>
<rect x="158.28" y="54.28" width="2.64" height="2.64" fill="#2a2a22"/>
<text x="177.5" y="55.6" font-family="'Liberation Sans', sans-serif" font-size="4.75" font-weight="normal" text-anchor="start" dominant-baseline="central" fill="#555" stroke="#555" stroke-width="0.05">176Yb(t,2n),TENDL-2019</text>
<polyline points="144.2,65.2 175.6,65.2" fill="none" stroke="#acd060" stroke-width="1.6" stroke-dasharray="2.4,2" stroke-linejoin="round"/>
<rect x="158.17" y="63.77" width="2.86" height="2.86" fill="#b4d070"/>
<text x="177.5" y="65.2" font-family="'Liberation Sans', sans-serif" font-size="4.75" font-weight="normal" text-anchor="start" dominant-baseline="central" fill="#555" stroke="#555" stroke-width="0.05">176Yb(t,2n),EMPIRE 3.2.3</text>
</g>
<g>
<line x1="299.5" y1="174.4" x2="299.5" y2="176.4" stroke="#c8c8c8" stroke-width="0.8"/>
<line x1="299.5" y1="24.6" x2="299.5" y2="22.6" stroke="#c8c8c8" stroke-width="0.8"/>
<line x1="319.45" y1="174.4" x2="319.45" y2="172.4" stroke="#c8c8c8" stroke-width="0.8"/>
<line x1="319.45" y1="24.6" x2="319.45" y2="26.6" stroke="#c8c8c8" stroke-width="0.8"/>
<line x1="339.4" y1="174.4" x2="339.4" y2="176.4" stroke="#c8c8c8" stroke-width="0.8"/>
<line x1="339.4" y1="24.6" x2="339.4" y2="22.6" stroke="#c8c8c8" stroke-width="0.8"/>
<line x1="359.35" y1="174.4" x2="359.35" y2="172.4" stroke="#c8c8c8" stroke-width="0.8"/>
<line x1="359.35" y1="24.6" x2="359.35" y2="26.6" stroke="#c8c8c8" stroke-width="0.8"/>
<line x1="379.3" y1="174.4" x2="379.3" y2="176.4" stroke="#c8c8c8" stroke-width="0.8"/>
<line x1="379.3" y1="24.6" x2="379.3" y2="22.6" stroke="#c8c8c8" stroke-width="0.8"/>
<line x1="399.25" y1="174.4" x2="399.25" y2="172.4" stroke="#c8c8c8" stroke-width="0.8"/>
<line x1="399.25" y1="24.6" x2="399.25" y2="26.6" stroke="#c8c8c8" stroke-width="0.8"/>
<line x1="419.2" y1="174.4" x2="419.2" y2="176.4" stroke="#c8c8c8" stroke-width="0.8"/>
<line x1="419.2" y1="24.6" x2="419.2" y2="22.6" stroke="#c8c8c8" stroke-width="0.8"/>
<line x1="439.15" y1="174.4" x2="439.15" y2="172.4" stroke="#c8c8c8" stroke-width="0.8"/>
<line x1="439.15" y1="24.6" x2="439.15" y2="26.6" stroke="#c8c8c8" stroke-width="0.8"/>
<line x1="459.1" y1="174.4" x2="459.1" y2="176.4" stroke="#c8c8c8" stroke-width="0.8"/>
<line x1="459.1" y1="24.6" x2="459.1" y2="22.6" stroke="#c8c8c8" stroke-width="0.8"/>
<line x1="479.05" y1="174.4" x2="479.05" y2="172.4" stroke="#c8c8c8" stroke-width="0.8"/>
<line x1="479.05" y1="24.6" x2="479.05" y2="26.6" stroke="#c8c8c8" stroke-width="0.8"/>
<line x1="499" y1="174.4" x2="499" y2="176.4" stroke="#c8c8c8" stroke-width="0.8"/>
<line x1="499" y1="24.6" x2="499" y2="22.6" stroke="#c8c8c8" stroke-width="0.8"/>
<line x1="299.5" y1="163.13" x2="301.5" y2="163.13" stroke="#c8c8c8" stroke-width="0.8"/>
<line x1="499" y1="163.13" x2="497" y2="163.13" stroke="#c8c8c8" stroke-width="0.8"/>
<line x1="299.5" y1="156.53" x2="301.5" y2="156.53" stroke="#c8c8c8" stroke-width="0.8"/>
<line x1="499" y1="156.53" x2="497" y2="156.53" stroke="#c8c8c8" stroke-width="0.8"/>
<line x1="299.5" y1="151.85" x2="301.5" y2="151.85" stroke="#c8c8c8" stroke-width="0.8"/>
<line x1="499" y1="151.85" x2="497" y2="151.85" stroke="#c8c8c8" stroke-width="0.8"/>
<line x1="299.5" y1="148.22" x2="301.5" y2="148.22" stroke="#c8c8c8" stroke-width="0.8"/>
<line x1="499" y1="148.22" x2="497" y2="148.22" stroke="#c8c8c8" stroke-width="0.8"/>
<line x1="299.5" y1="145.26" x2="301.5" y2="145.26" stroke="#c8c8c8" stroke-width="0.8"/>
<line x1="499" y1="145.26" x2="497" y2="145.26" stroke="#c8c8c8" stroke-width="0.8"/>
<line x1="299.5" y1="142.75" x2="301.5" y2="142.75" stroke="#c8c8c8" stroke-width="0.8"/>
<line x1="499" y1="142.75" x2="497" y2="142.75" stroke="#c8c8c8" stroke-width="0.8"/>
<line x1="299.5" y1="140.58" x2="301.5" y2="140.58" stroke="#c8c8c8" stroke-width="0.8"/>
<line x1="499" y1="140.58" x2="497" y2="140.58" stroke="#c8c8c8" stroke-width="0.8"/>
<line x1="299.5" y1="138.66" x2="301.5" y2="138.66" stroke="#c8c8c8" stroke-width="0.8"/>
<line x1="499" y1="138.66" x2="497" y2="138.66" stroke="#c8c8c8" stroke-width="0.8"/>
<line x1="299.5" y1="125.68" x2="301.5" y2="125.68" stroke="#c8c8c8" stroke-width="0.8"/>
<line x1="499" y1="125.68" x2="497" y2="125.68" stroke="#c8c8c8" stroke-width="0.8"/>
<line x1="299.5" y1="119.08" x2="301.5" y2="119.08" stroke="#c8c8c8" stroke-width="0.8"/>
<line x1="499" y1="119.08" x2="497" y2="119.08" stroke="#c8c8c8" stroke-width="0.8"/>
<line x1="299.5" y1="114.4" x2="301.5" y2="114.4" stroke="#c8c8c8" stroke-width="0.8"/>
<line x1="499" y1="114.4" x2="497" y2="114.4" stroke="#c8c8c8" stroke-width="0.8"/>
<line x1="299.5" y1="110.77" x2="301.5" y2="110.77" stroke="#c8c8c8" stroke-width="0.8"/>
<line x1="499" y1="110.77" x2="497" y2="110.77" stroke="#c8c8c8" stroke-width="0.8"/>
<line x1="299.5" y1="107.81" x2="301.5" y2="107.81" stroke="#c8c8c8" stroke-width="0.8"/>
<line x1="499" y1="107.81" x2="497" y2="107.81" stroke="#c8c8c8" stroke-width="0.8"/>
<line x1="299.5" y1="105.3" x2="301.5" y2="105.3" stroke="#c8c8c8" stroke-width="0.8"/>
<line x1="499" y1="105.3" x2="497" y2="105.3" stroke="#c8c8c8" stroke-width="0.8"/>
<line x1="299.5" y1="103.13" x2="301.5" y2="103.13" stroke="#c8c8c8" stroke-width="0.8"/>
<line x1="499" y1="103.13" x2="497" y2="103.13" stroke="#c8c8c8" stroke-width="0.8"/>
<line x1="299.5" y1="101.21" x2="301.5" y2="101.21" stroke="#c8c8c8" stroke-width="0.8"/>
<line x1="499" y1="101.21" x2="497" y2="101.21" stroke="#c8c8c8" stroke-width="0.8"/>
<line x1="299.5" y1="88.23" x2="301.5" y2="88.23" stroke="#c8c8c8" stroke-width="0.8"/>
<line x1="499" y1="88.23" x2="497" y2="88.23" stroke="#c8c8c8" stroke-width="0.8"/>
<line x1="299.5" y1="81.63" x2="301.5" y2="81.63" stroke="#c8c8c8" stroke-width="0.8"/>
<line x1="499" y1="81.63" x2="497" y2="81.63" stroke="#c8c8c8" stroke-width="0.8"/>
<line x1="299.5" y1="76.95" x2="301.5" y2="76.95" stroke="#c8c8c8" stroke-width="0.8"/>
<line x1="499" y1="76.95" x2="497" y2="76.95" stroke="#c8c8c8" stroke-width="0.8"/>
<line x1="299.5" y1="73.32" x2="301.5" y2="73.32" stroke="#c8c8c8" stroke-width="0.8"/>
<line x1="499" y1="73.32" x2="497" y2="73.32" stroke="#c8c8c8" stroke-width="0.8"/>
<line x1="299.5" y1="70.36" x2="301.5" y2="70.36" stroke="#c8c8c8" stroke-width="0.8"/>
<line x1="499" y1="70.36" x2="497" y2="70.36" stroke="#c8c8c8" stroke-width="0.8"/>
<line x1="299.5" y1="67.85" x2="301.5" y2="67.85" stroke="#c8c8c8" stroke-width="0.8"/>
<line x1="499" y1="67.85" x2="497" y2="67.85" stroke="#c8c8c8" stroke-width="0.8"/>
<line x1="299.5" y1="65.68" x2="301.5" y2="65.68" stroke="#c8c8c8" stroke-width="0.8"/>
<line x1="499" y1="65.68" x2="497" y2="65.68" stroke="#c8c8c8" stroke-width="0.8"/>
<line x1="299.5" y1="63.76" x2="301.5" y2="63.76" stroke="#c8c8c8" stroke-width="0.8"/>
<line x1="499" y1="63.76" x2="497" y2="63.76" stroke="#c8c8c8" stroke-width="0.8"/>
<line x1="299.5" y1="50.78" x2="301.5" y2="50.78" stroke="#c8c8c8" stroke-width="0.8"/>
<line x1="499" y1="50.78" x2="497" y2="50.78" stroke="#c8c8c8" stroke-width="0.8"/>
<line x1="299.5" y1="44.18" x2="301.5" y2="44.18" stroke="#c8c8c8" stroke-width="0.8"/>
<line x1="499" y1="44.18" x2="497" y2="44.18" stroke="#c8c8c8" stroke-width="0.8"/>
<line x1="299.5" y1="39.5" x2="301.5" y2="39.5" stroke="#c8c8c8" stroke-width="0.8"/>
<line x1="499" y1="39.5" x2="497" y2="39.5" stroke="#c8c8c8" stroke-width="0.8"/>
<line x1="299.5" y1="35.87" x2="301.5" y2="35.87" stroke="#c8c8c8" stroke-width="0.8"/>
<line x1="499" y1="35.87" x2="497" y2="35.87" stroke="#c8c8c8" stroke-width="0.8"/>
<line x1="299.5" y1="32.91" x2="301.5" y2="32.91" stroke="#c8c8c8" stroke-width="0.8"/>
<line x1="499" y1="32.91" x2="497" y2="32.91" stroke="#c8c8c8" stroke-width="0.8"/>
<line x1="299.5" y1="30.4" x2="301.5" y2="30.4" stroke="#c8c8c8" stroke-width="0.8"/>
<line x1="499" y1="30.4" x2="497" y2="30.4" stroke="#c8c8c8" stroke-width="0.8"/>
<line x1="299.5" y1="28.23" x2="301.5" y2="28.23" stroke="#c8c8c8" stroke-width="0.8"/>
<line x1="499" y1="28.23" x2="497" y2="28.23" stroke="#c8c8c8" stroke-width="0.8"/>
<line x1="299.5" y1="26.31" x2="301.5" y2="26.31" stroke="#c8c8c8" stroke-width="0.8"/>
<line x1="499" y1="26.31" x2="497" y2="26.31" stroke="#c8c8c8" stroke-width="0.8"/>
<line x1="296.5" y1="174.4" x2="299.5" y2="174.4" stroke="#c8c8c8" stroke-width="0.8"/>
<line x1="499" y1="174.4" x2="502" y2="174.4" stroke="#c8c8c8" stroke-width="0.8"/>
<line x1="296.5" y1="136.95" x2="299.5" y2="136.95" stroke="#c8c8c8" stroke-width="0.8"/>
<line x1="499" y1="136.95" x2="502" y2="136.95" stroke="#c8c8c8" stroke-width="0.8"/>
<line x1="296.5" y1="99.5" x2="299.5" y2="99.5" stroke="#c8c8c8" stroke-width="0.8"/>
<line x1="499" y1="99.5" x2="502" y2="99.5" stroke="#c8c8c8" stroke-width="0.8"/>
<line x1="296.5" y1="62.05" x2="299.5" y2="62.05" stroke="#c8c8c8" stroke-width="0.8"/>
<line x1="499" y1="62.05" x2="502" y2="62.05" stroke="#c8c8c8" stroke-width="0.8"/>
<line x1="296.5" y1="24.6" x2="299.5" y2="24.6" stroke="#c8c8c8" stroke-width="0.8"/>
<line x1="499" y1="24.6" x2="502" y2="24.6" stroke="#c8c8c8" stroke-width="0.8"/>
<rect x="299.5" y="24.6" width="199.5" height="149.8" fill="none" stroke="#c2c2c2" stroke-width="1"/>
<text x="299.5" y="18.8" font-family="'Liberation Sans', sans-serif" font-size="6.3" font-weight="normal" text-anchor="middle" dominant-baseline="central" fill="#1e1e1e" stroke="#1e1e1e" stroke-width="0.15">0</text>
<text x="299.5" y="183.6" font-family="'Liberation Sans', sans-serif" font-size="6.3" font-weight="normal" text-anchor="middle" dominant-baseline="central" fill="#1e1e1e" stroke="#1e1e1e" stroke-width="0.15">0</text>
<text x="339.4" y="18.8" font-family="'Liberation Sans', sans-serif" font-size="6.3" font-weight="normal" text-anchor="middle" dominant-baseline="central" fill="#1e1e1e" stroke="#1e1e1e" stroke-width="0.15">4</text>
<text x="339.4" y="183.6" font-family="'Liberation Sans', sans-serif" font-size="6.3" font-weight="normal" text-anchor="middle" dominant-baseline="central" fill="#1e1e1e" stroke="#1e1e1e" stroke-width="0.15">4</text>
<text x="379.3" y="18.8" font-family="'Liberation Sans', sans-serif" font-size="6.3" font-weight="normal" text-anchor="middle" dominant-baseline="central" fill="#1e1e1e" stroke="#1e1e1e" stroke-width="0.15">8</text>
<text x="379.3" y="183.6" font-family="'Liberation Sans', sans-serif" font-size="6.3" font-weight="normal" text-anchor="middle" dominant-baseline="central" fill="#1e1e1e" stroke="#1e1e1e" stroke-width="0.15">8</text>
<text x="419.2" y="18.8" font-family="'Liberation Sans', sans-serif" font-size="6.3" font-weight="normal" text-anchor="middle" dominant-baseline="central" fill="#1e1e1e" stroke="#1e1e1e" stroke-width="0.15">12</text>
<text x="419.2" y="183.6" font-family="'Liberation Sans', sans-serif" font-size="6.3" font-weight="normal" text-anchor="middle" dominant-baseline="central" fill="#1e1e1e" stroke="#1e1e1e" stroke-width="0.15">12</text>
<text x="459.1" y="18.8" font-family="'Liberation Sans', sans-serif" font-size="6.3" font-weight="normal" text-anchor="middle" dominant-baseline="central" fill="#1e1e1e" stroke="#1e1e1e" stroke-width="0.15">16</text>
<text x="459.1" y="183.6" font-family="'Liberation Sans', sans-serif" font-size="6.3" font-weight="normal" text-anchor="middle" dominant-baseline="central" fill="#1e1e1e" stroke="#1e1e1e" stroke-width="0.15">16</text>
<text x="499" y="18.8" font-family="'Liberation Sans', sans-serif" font-size="6.3" font-weight="normal" text-anchor="middle" dominant-baseline="central" fill="#1e1e1e" stroke="#1e1e1e" stroke-width="0.15">20</text>
<text x="499" y="183.6" font-family="'Liberation Sans', sans-serif" font-size="6.3" font-weight="normal" text-anchor="middle" dominant-baseline="central" fill="#1e1e1e" stroke="#1e1e1e" stroke-width="0.15">20</text>
<text x="293.8" y="174.4" font-family="'Liberation Sans', sans-serif" font-size="6.3" font-weight="normal" text-anchor="end" dominant-baseline="central" fill="#1e1e1e" stroke="#1e1e1e" stroke-width="0.15">0.1</text>
<text x="504.6" y="174.4" font-family="'Liberation Sans', sans-serif" font-size="6.3" font-weight="normal" text-anchor="start" dominant-baseline="central" fill="#1e1e1e" stroke="#1e1e1e" stroke-width="0.15">0.1</text>
<text x="293.8" y="136.95" font-family="'Liberation Sans', sans-serif" font-size="6.3" font-weight="normal" text-anchor="end" dominant-baseline="central" fill="#1e1e1e" stroke="#1e1e1e" stroke-width="0.15">1</text>
<text x="504.6" y="136.95" font-family="'Liberation Sans', sans-serif" font-size="6.3" font-weight="normal" text-anchor="start" dominant-baseline="central" fill="#1e1e1e" stroke="#1e1e1e" stroke-width="0.15">1</text>
<text x="293.8" y="99.5" font-family="'Liberation Sans', sans-serif" font-size="6.3" font-weight="normal" text-anchor="end" dominant-baseline="central" fill="#1e1e1e" stroke="#1e1e1e" stroke-width="0.15">10</text>
<text x="504.6" y="99.5" font-family="'Liberation Sans', sans-serif" font-size="6.3" font-weight="normal" text-anchor="start" dominant-baseline="central" fill="#1e1e1e" stroke="#1e1e1e" stroke-width="0.15">10</text>
<text x="293.8" y="62.05" font-family="'Liberation Sans', sans-serif" font-size="6.3" font-weight="normal" text-anchor="end" dominant-baseline="central" fill="#1e1e1e" stroke="#1e1e1e" stroke-width="0.15">100</text>
<text x="504.6" y="62.05" font-family="'Liberation Sans', sans-serif" font-size="6.3" font-weight="normal" text-anchor="start" dominant-baseline="central" fill="#1e1e1e" stroke="#1e1e1e" stroke-width="0.15">100</text>
<text x="293.8" y="24.6" font-family="'Liberation Sans', sans-serif" font-size="6.3" font-weight="normal" text-anchor="end" dominant-baseline="central" fill="#1e1e1e" stroke="#1e1e1e" stroke-width="0.15">1000</text>
<text x="504.6" y="24.6" font-family="'Liberation Sans', sans-serif" font-size="6.3" font-weight="normal" text-anchor="start" dominant-baseline="central" fill="#1e1e1e" stroke="#1e1e1e" stroke-width="0.15">1000</text>
<text x="398.6" y="4.6" font-family="'Liberation Sans', sans-serif" font-size="8.3" font-weight="bold" text-anchor="middle" dominant-baseline="central" fill="#111">Production of 177Lu</text>
<text x="388.5" y="193.7" font-family="'Liberation Sans', sans-serif" font-size="6.75" font-weight="bold" text-anchor="middle" dominant-baseline="central" fill="#151515">Energy [MeV]</text>
<text x="277" y="97.7" font-family="'Liberation Sans', sans-serif" font-size="6.8" font-weight="bold" text-anchor="middle" dominant-baseline="central" fill="#151515" transform="rotate(-90 277 97.7)">Cross section [mb]</text>
<text x="0" y="0" font-family="'Liberation Serif', serif" font-size="11.0" font-weight="normal" text-anchor="middle" dominant-baseline="central" fill="#151515" transform="translate(404.25 205.6) scale(0.98 1)" stroke="#151515" stroke-width="0.2">(b)</text>
</g>
<g>
<polyline points="308.98,76.39 310.97,75.73 312.97,80.08 314.96,82.41 316.96,84.12 318.95,85.83 320.95,87.55 322.94,89.26 324.94,90.97 326.93,92.68 328.93,94.4 330.92,96.11 332.92,97.82 334.91,99.64 336.91,101.49 338.9,103.89 340.9,106.48 342.89,109.07 344.89,111.66 346.88,114.24 348.88,116.83 350.87,119.42 352.87,122.01 354.36,123.99 359.35,131.48 364.34,137.61 369.32,141.89 374.31,143.61 379.3,142.75 384.29,140.58 389.27,138.31 394.26,136.16 399.25,134.4 404.24,133.35 409.23,132.31 419.2,131.48 429.17,132.07 439.15,134.54 449.12,137.96 459.1,141.41 469.07,143.96 479.05,146.38 489.02,148.89 499,151.45" fill="none" stroke="#2c4d8a" stroke-width="1.4" stroke-linejoin="round"/>
<circle cx="308.98" cy="76.39" r="1.25" fill="#1f3a70"/>
<circle cx="310.97" cy="75.73" r="1.25" fill="#1f3a70"/>
<circle cx="312.97" cy="80.08" r="1.25" fill="#1f3a70"/>
<circle cx="314.96" cy="82.41" r="1.25" fill="#1f3a70"/>
<circle cx="316.96" cy="84.12" r="1.25" fill="#1f3a70"/>
<circle cx="318.95" cy="85.83" r="1.25" fill="#1f3a70"/>
<circle cx="320.95" cy="87.55" r="1.25" fill="#1f3a70"/>
<circle cx="322.94" cy="89.26" r="1.25" fill="#1f3a70"/>
<circle cx="324.94" cy="90.97" r="1.25" fill="#1f3a70"/>
<circle cx="326.93" cy="92.68" r="1.25" fill="#1f3a70"/>
<circle cx="328.93" cy="94.4" r="1.25" fill="#1f3a70"/>
<circle cx="330.92" cy="96.11" r="1.25" fill="#1f3a70"/>
<circle cx="332.92" cy="97.82" r="1.25" fill="#1f3a70"/>
<circle cx="334.91" cy="99.64" r="1.25" fill="#1f3a70"/>
<circle cx="336.91" cy="101.49" r="1.25" fill="#1f3a70"/>
<circle cx="338.9" cy="103.89" r="1.25" fill="#1f3a70"/>
<circle cx="340.9" cy="106.48" r="1.25" fill="#1f3a70"/>
<circle cx="342.89" cy="109.07" r="1.25" fill="#1f3a70"/>
<circle cx="344.89" cy="111.66" r="1.25" fill="#1f3a70"/>
<circle cx="346.88" cy="114.24" r="1.25" fill="#1f3a70"/>
<circle cx="348.88" cy="116.83" r="1.25" fill="#1f3a70"/>
<circle cx="350.87" cy="119.42" r="1.25" fill="#1f3a70"/>
<circle cx="352.87" cy="122.01" r="1.25" fill="#1f3a70"/>
<circle cx="354.36" cy="123.99" r="1.25" fill="#1f3a70"/>
<circle cx="359.35" cy="131.48" r="1.25" fill="#1f3a70"/>
<circle cx="364.34" cy="137.61" r="1.25" fill="#1f3a70"/>
<circle cx="369.32" cy="141.89" r="1.25" fill="#1f3a70"/>
<circle cx="374.31" cy="143.61" r="1.25" fill="#1f3a70"/>
<circle cx="379.3" cy="142.75" r="1.25" fill="#1f3a70"/>
<circle cx="384.29" cy="140.58" r="1.25" fill="#1f3a70"/>
<circle cx="389.27" cy="138.31" r="1.25" fill="#1f3a70"/>
<circle cx="394.26" cy="136.16" r="1.25" fill="#1f3a70"/>
<circle cx="399.25" cy="134.4" r="1.25" fill="#1f3a70"/>
<circle cx="404.24" cy="133.35" r="1.25" fill="#1f3a70"/>
<circle cx="409.23" cy="132.31" r="1.25" fill="#1f3a70"/>
<circle cx="419.2" cy="131.48" r="1.25" fill="#1f3a70"/>
<circle cx="429.17" cy="132.07" r="1.25" fill="#1f3a70"/>
<circle cx="439.15" cy="134.54" r="1.25" fill="#1f3a70"/>
<circle cx="449.12" cy="137.96" r="1.25" fill="#1f3a70"/>
<circle cx="459.1" cy="141.41" r="1.25" fill="#1f3a70"/>
<circle cx="469.07" cy="143.96" r="1.25" fill="#1f3a70"/>
<circle cx="479.05" cy="146.38" r="1.25" fill="#1f3a70"/>
<circle cx="489.02" cy="148.89" r="1.25" fill="#1f3a70"/>
<circle cx="499" cy="151.45" r="1.25" fill="#1f3a70"/>
<polyline points="308.98,59.08 310.97,63.92 312.97,67.63 314.96,71.19 316.96,74.12 318.95,77.2 320.95,79.82 322.94,82.54 324.94,85.18 326.93,87.81 328.93,90.44 330.92,93.06 332.92,95.69 334.91,98.32 336.91,100.95 338.9,103.58 340.9,106.21 342.89,108.84 344.89,111.47 346.88,114.09 348.88,116.72 350.87,119.35 352.87,121.98 354.36,123.9 359.35,129.31 364.34,131.95 369.32,132.68 374.31,132.68 379.3,132.31 384.29,131.78 389.27,131.25 394.26,130.86 399.25,130.46 404.24,130.41 409.23,130.36 419.2,130.79 429.17,131.59 439.15,133.92 449.12,137.21 459.1,140.8 469.07,143.2 479.05,145.5 489.02,147.71 499,149.37" fill="none" stroke="#dc5a2e" stroke-width="1.4" stroke-linejoin="round"/>
<circle cx="308.98" cy="59.08" r="1.25" fill="#b4441e"/>
<circle cx="310.97" cy="63.92" r="1.25" fill="#b4441e"/>
<circle cx="312.97" cy="67.63" r="1.25" fill="#b4441e"/>
<circle cx="314.96" cy="71.19" r="1.25" fill="#b4441e"/>
<circle cx="316.96" cy="74.12" r="1.25" fill="#b4441e"/>
<circle cx="318.95" cy="77.2" r="1.25" fill="#b4441e"/>
<circle cx="320.95" cy="79.82" r="1.25" fill="#b4441e"/>
<circle cx="322.94" cy="82.54" r="1.25" fill="#b4441e"/>
<circle cx="324.94" cy="85.18" r="1.25" fill="#b4441e"/>
<circle cx="326.93" cy="87.81" r="1.25" fill="#b4441e"/>
<circle cx="328.93" cy="90.44" r="1.25" fill="#b4441e"/>
<circle cx="330.92" cy="93.06" r="1.25" fill="#b4441e"/>
<circle cx="332.92" cy="95.69" r="1.25" fill="#b4441e"/>
<circle cx="334.91" cy="98.32" r="1.25" fill="#b4441e"/>
<circle cx="336.91" cy="100.95" r="1.25" fill="#b4441e"/>
<circle cx="338.9" cy="103.58" r="1.25" fill="#b4441e"/>
<circle cx="340.9" cy="106.21" r="1.25" fill="#b4441e"/>
<circle cx="342.89" cy="108.84" r="1.25" fill="#b4441e"/>
<circle cx="344.89" cy="111.47" r="1.25" fill="#b4441e"/>
<circle cx="346.88" cy="114.09" r="1.25" fill="#b4441e"/>
<circle cx="348.88" cy="116.72" r="1.25" fill="#b4441e"/>
<circle cx="350.87" cy="119.35" r="1.25" fill="#b4441e"/>
<circle cx="352.87" cy="121.98" r="1.25" fill="#b4441e"/>
<circle cx="354.36" cy="123.9" r="1.25" fill="#b4441e"/>
<circle cx="359.35" cy="129.31" r="1.25" fill="#b4441e"/>
<circle cx="364.34" cy="131.95" r="1.25" fill="#b4441e"/>
<circle cx="369.32" cy="132.68" r="1.25" fill="#b4441e"/>
<circle cx="374.31" cy="132.68" r="1.25" fill="#b4441e"/>
<circle cx="379.3" cy="132.31" r="1.25" fill="#b4441e"/>
<circle cx="384.29" cy="131.78" r="1.25" fill="#b4441e"/>
<circle cx="389.27" cy="131.25" r="1.25" fill="#b4441e"/>
<circle cx="394.26" cy="130.86" r="1.25" fill="#b4441e"/>
<circle cx="399.25" cy="130.46" r="1.25" fill="#b4441e"/>
<circle cx="404.24" cy="130.41" r="1.25" fill="#b4441e"/>
<circle cx="409.23" cy="130.36" r="1.25" fill="#b4441e"/>
<circle cx="419.2" cy="130.79" r="1.25" fill="#b4441e"/>
<circle cx="429.17" cy="131.59" r="1.25" fill="#b4441e"/>
<circle cx="439.15" cy="133.92" r="1.25" fill="#b4441e"/>
<circle cx="449.12" cy="137.21" r="1.25" fill="#b4441e"/>
<circle cx="459.1" cy="140.8" r="1.25" fill="#b4441e"/>
<circle cx="469.07" cy="143.2" r="1.25" fill="#b4441e"/>
<circle cx="479.05" cy="145.5" r="1.25" fill="#b4441e"/>
<circle cx="489.02" cy="147.71" r="1.25" fill="#b4441e"/>
<circle cx="499" cy="149.37" r="1.25" fill="#b4441e"/>
<polyline points="410,43.1 425,43.1" fill="none" stroke="#e0582c" stroke-width="1.0" stroke-linejoin="round"/>
<circle cx="417.7" cy="43.1" r="1.5" fill="#b4441e"/>
<text x="426.5" y="43.1" font-family="'Liberation Sans', sans-serif" font-size="5.83" font-weight="normal" text-anchor="start" dominant-baseline="central" fill="#333" stroke="#333" stroke-width="0.15">176Lu(n,g),TALYS-1.9</text>
<polyline points="410,54.4 425,54.4" fill="none" stroke="#2c4d8a" stroke-width="1.0" stroke-linejoin="round"/>
<rect x="415.9" y="52.6" width="3.6" height="3.6" fill="#1f3a70"/>
<text x="426.5" y="54.4" font-family="'Liberation Sans', sans-serif" font-size="5.83" font-weight="normal" text-anchor="start" dominant-baseline="central" fill="#333" stroke="#333" stroke-width="0.15">176Yb(n,g),TALYS-1.9</text>
</g>
<g>
<line x1="29.5" y1="393.3" x2="29.5" y2="395.3" stroke="#c8c8c8" stroke-width="0.8"/>
<line x1="29.5" y1="243.3" x2="29.5" y2="241.3" stroke="#c8c8c8" stroke-width="0.8"/>
<line x1="39.03" y1="393.3" x2="39.03" y2="391.3" stroke="#c8c8c8" stroke-width="0.8"/>
<line x1="39.03" y1="243.3" x2="39.03" y2="245.3" stroke="#c8c8c8" stroke-width="0.8"/>
<line x1="48.57" y1="393.3" x2="48.57" y2="391.3" stroke="#c8c8c8" stroke-width="0.8"/>
<line x1="48.57" y1="243.3" x2="48.57" y2="245.3" stroke="#c8c8c8" stroke-width="0.8"/>
<line x1="58.1" y1="393.3" x2="58.1" y2="395.3" stroke="#c8c8c8" stroke-width="0.8"/>
<line x1="58.1" y1="243.3" x2="58.1" y2="241.3" stroke="#c8c8c8" stroke-width="0.8"/>
<line x1="67.63" y1="393.3" x2="67.63" y2="391.3" stroke="#c8c8c8" stroke-width="0.8"/>
<line x1="67.63" y1="243.3" x2="67.63" y2="245.3" stroke="#c8c8c8" stroke-width="0.8"/>
<line x1="77.17" y1="393.3" x2="77.17" y2="391.3" stroke="#c8c8c8" stroke-width="0.8"/>
<line x1="77.17" y1="243.3" x2="77.17" y2="245.3" stroke="#c8c8c8" stroke-width="0.8"/>
<line x1="86.7" y1="393.3" x2="86.7" y2="395.3" stroke="#c8c8c8" stroke-width="0.8"/>
<line x1="86.7" y1="243.3" x2="86.7" y2="241.3" stroke="#c8c8c8" stroke-width="0.8"/>
<line x1="96.23" y1="393.3" x2="96.23" y2="391.3" stroke="#c8c8c8" stroke-width="0.8"/>
<line x1="96.23" y1="243.3" x2="96.23" y2="245.3" stroke="#c8c8c8" stroke-width="0.8"/>
<line x1="105.77" y1="393.3" x2="105.77" y2="391.3" stroke="#c8c8c8" stroke-width="0.8"/>
<line x1="105.77" y1="243.3" x2="105.77" y2="245.3" stroke="#c8c8c8" stroke-width="0.8"/>
<line x1="115.3" y1="393.3" x2="115.3" y2="395.3" stroke="#c8c8c8" stroke-width="0.8"/>
<line x1="115.3" y1="243.3" x2="115.3" y2="241.3" stroke="#c8c8c8" stroke-width="0.8"/>
<line x1="124.83" y1="393.3" x2="124.83" y2="391.3" stroke="#c8c8c8" stroke-width="0.8"/>
<line x1="124.83" y1="243.3" x2="124.83" y2="245.3" stroke="#c8c8c8" stroke-width="0.8"/>
<line x1="134.37" y1="393.3" x2="134.37" y2="391.3" stroke="#c8c8c8" stroke-width="0.8"/>
<line x1="134.37" y1="243.3" x2="134.37" y2="245.3" stroke="#c8c8c8" stroke-width="0.8"/>
<line x1="143.9" y1="393.3" x2="143.9" y2="395.3" stroke="#c8c8c8" stroke-width="0.8"/>
<line x1="143.9" y1="243.3" x2="143.9" y2="241.3" stroke="#c8c8c8" stroke-width="0.8"/>
<line x1="153.43" y1="393.3" x2="153.43" y2="391.3" stroke="#c8c8c8" stroke-width="0.8"/>
<line x1="153.43" y1="243.3" x2="153.43" y2="245.3" stroke="#c8c8c8" stroke-width="0.8"/>
<line x1="162.97" y1="393.3" x2="162.97" y2="391.3" stroke="#c8c8c8" stroke-width="0.8"/>
<line x1="162.97" y1="243.3" x2="162.97" y2="245.3" stroke="#c8c8c8" stroke-width="0.8"/>
<line x1="172.5" y1="393.3" x2="172.5" y2="395.3" stroke="#c8c8c8" stroke-width="0.8"/>
<line x1="172.5" y1="243.3" x2="172.5" y2="241.3" stroke="#c8c8c8" stroke-width="0.8"/>
<line x1="182.03" y1="393.3" x2="182.03" y2="391.3" stroke="#c8c8c8" stroke-width="0.8"/>
<line x1="182.03" y1="243.3" x2="182.03" y2="245.3" stroke="#c8c8c8" stroke-width="0.8"/>
<line x1="191.57" y1="393.3" x2="191.57" y2="391.3" stroke="#c8c8c8" stroke-width="0.8"/>
<line x1="191.57" y1="243.3" x2="191.57" y2="245.3" stroke="#c8c8c8" stroke-width="0.8"/>
<line x1="201.1" y1="393.3" x2="201.1" y2="395.3" stroke="#c8c8c8" stroke-width="0.8"/>
<line x1="201.1" y1="243.3" x2="201.1" y2="241.3" stroke="#c8c8c8" stroke-width="0.8"/>
<line x1="210.63" y1="393.3" x2="210.63" y2="391.3" stroke="#c8c8c8" stroke-width="0.8"/>
<line x1="210.63" y1="243.3" x2="210.63" y2="245.3" stroke="#c8c8c8" stroke-width="0.8"/>
<line x1="220.17" y1="393.3" x2="220.17" y2="391.3" stroke="#c8c8c8" stroke-width="0.8"/>
<line x1="220.17" y1="243.3" x2="220.17" y2="245.3" stroke="#c8c8c8" stroke-width="0.8"/>
<line x1="229.7" y1="393.3" x2="229.7" y2="395.3" stroke="#c8c8c8" stroke-width="0.8"/>
<line x1="229.7" y1="243.3" x2="229.7" y2="241.3" stroke="#c8c8c8" stroke-width="0.8"/>
<line x1="27.5" y1="393.3" x2="29.5" y2="393.3" stroke="#c8c8c8" stroke-width="0.8"/>
<line x1="229.7" y1="393.3" x2="231.7" y2="393.3" stroke="#c8c8c8" stroke-width="0.8"/>
<line x1="29.5" y1="376.25" x2="31.5" y2="376.25" stroke="#c8c8c8" stroke-width="0.8"/>
<line x1="227.7" y1="376.25" x2="229.7" y2="376.25" stroke="#c8c8c8" stroke-width="0.8"/>
<line x1="27.5" y1="359.2" x2="29.5" y2="359.2" stroke="#c8c8c8" stroke-width="0.8"/>
<line x1="229.7" y1="359.2" x2="231.7" y2="359.2" stroke="#c8c8c8" stroke-width="0.8"/>
<line x1="29.5" y1="342.15" x2="31.5" y2="342.15" stroke="#c8c8c8" stroke-width="0.8"/>
<line x1="227.7" y1="342.15" x2="229.7" y2="342.15" stroke="#c8c8c8" stroke-width="0.8"/>
<line x1="27.5" y1="325.1" x2="29.5" y2="325.1" stroke="#c8c8c8" stroke-width="0.8"/>
<line x1="229.7" y1="325.1" x2="231.7" y2="325.1" stroke="#c8c8c8" stroke-width="0.8"/>
<line x1="29.5" y1="308.05" x2="31.5" y2="308.05" stroke="#c8c8c8" stroke-width="0.8"/>
<line x1="227.7" y1="308.05" x2="229.7" y2="308.05" stroke="#c8c8c8" stroke-width="0.8"/>
<line x1="27.5" y1="291" x2="29.5" y2="291" stroke="#c8c8c8" stroke-width="0.8"/>
<line x1="229.7" y1="291" x2="231.7" y2="291" stroke="#c8c8c8" stroke-width="0.8"/>
<line x1="29.5" y1="273.95" x2="31.5" y2="273.95" stroke="#c8c8c8" stroke-width="0.8"/>
<line x1="227.7" y1="273.95" x2="229.7" y2="273.95" stroke="#c8c8c8" stroke-width="0.8"/>
<line x1="27.5" y1="256.9" x2="29.5" y2="256.9" stroke="#c8c8c8" stroke-width="0.8"/>
<line x1="229.7" y1="256.9" x2="231.7" y2="256.9" stroke="#c8c8c8" stroke-width="0.8"/>
<rect x="29.5" y="243.3" width="200.2" height="150" fill="none" stroke="#c2c2c2" stroke-width="1"/>
<text x="29.5" y="234.5" font-family="'Liberation Sans', sans-serif" font-size="6.3" font-weight="normal" text-anchor="middle" dominant-baseline="central" fill="#1e1e1e" stroke="#1e1e1e" stroke-width="0.15">0</text>
<text x="29.5" y="402" font-family="'Liberation Sans', sans-serif" font-size="6.3" font-weight="normal" text-anchor="middle" dominant-baseline="central" fill="#1e1e1e" stroke="#1e1e1e" stroke-width="0.15">0</text>
<text x="58.1" y="234.5" font-family="'Liberation Sans', sans-serif" font-size="6.3" font-weight="normal" text-anchor="middle" dominant-baseline="central" fill="#1e1e1e" stroke="#1e1e1e" stroke-width="0.15">10</text>
<text x="58.1" y="402" font-family="'Liberation Sans', sans-serif" font-size="6.3" font-weight="normal" text-anchor="middle" dominant-baseline="central" fill="#1e1e1e" stroke="#1e1e1e" stroke-width="0.15">10</text>
<text x="86.7" y="234.5" font-family="'Liberation Sans', sans-serif" font-size="6.3" font-weight="normal" text-anchor="middle" dominant-baseline="central" fill="#1e1e1e" stroke="#1e1e1e" stroke-width="0.15">20</text>
<text x="86.7" y="402" font-family="'Liberation Sans', sans-serif" font-size="6.3" font-weight="normal" text-anchor="middle" dominant-baseline="central" fill="#1e1e1e" stroke="#1e1e1e" stroke-width="0.15">20</text>
<text x="115.3" y="234.5" font-family="'Liberation Sans', sans-serif" font-size="6.3" font-weight="normal" text-anchor="middle" dominant-baseline="central" fill="#1e1e1e" stroke="#1e1e1e" stroke-width="0.15">30</text>
<text x="115.3" y="402" font-family="'Liberation Sans', sans-serif" font-size="6.3" font-weight="normal" text-anchor="middle" dominant-baseline="central" fill="#1e1e1e" stroke="#1e1e1e" stroke-width="0.15">30</text>
<text x="143.9" y="234.5" font-family="'Liberation Sans', sans-serif" font-size="6.3" font-weight="normal" text-anchor="middle" dominant-baseline="central" fill="#1e1e1e" stroke="#1e1e1e" stroke-width="0.15">40</text>
<text x="143.9" y="402" font-family="'Liberation Sans', sans-serif" font-size="6.3" font-weight="normal" text-anchor="middle" dominant-baseline="central" fill="#1e1e1e" stroke="#1e1e1e" stroke-width="0.15">40</text>
<text x="172.5" y="234.5" font-family="'Liberation Sans', sans-serif" font-size="6.3" font-weight="normal" text-anchor="middle" dominant-baseline="central" fill="#1e1e1e" stroke="#1e1e1e" stroke-width="0.15">50</text>
<text x="172.5" y="402" font-family="'Liberation Sans', sans-serif" font-size="6.3" font-weight="normal" text-anchor="middle" dominant-baseline="central" fill="#1e1e1e" stroke="#1e1e1e" stroke-width="0.15">50</text>
<text x="201.1" y="234.5" font-family="'Liberation Sans', sans-serif" font-size="6.3" font-weight="normal" text-anchor="middle" dominant-baseline="central" fill="#1e1e1e" stroke="#1e1e1e" stroke-width="0.15">60</text>
<text x="201.1" y="402" font-family="'Liberation Sans', sans-serif" font-size="6.3" font-weight="normal" text-anchor="middle" dominant-baseline="central" fill="#1e1e1e" stroke="#1e1e1e" stroke-width="0.15">60</text>
<text x="229.7" y="234.5" font-family="'Liberation Sans', sans-serif" font-size="6.3" font-weight="normal" text-anchor="middle" dominant-baseline="central" fill="#1e1e1e" stroke="#1e1e1e" stroke-width="0.15">70</text>
<text x="229.7" y="402" font-family="'Liberation Sans', sans-serif" font-size="6.3" font-weight="normal" text-anchor="middle" dominant-baseline="central" fill="#1e1e1e" stroke="#1e1e1e" stroke-width="0.15">70</text>
<text x="24.4" y="393.3" font-family="'Liberation Sans', sans-serif" font-size="6.3" font-weight="normal" text-anchor="end" dominant-baseline="central" fill="#1e1e1e" stroke="#1e1e1e" stroke-width="0.15">0.2</text>
<text x="234.1" y="393.3" font-family="'Liberation Sans', sans-serif" font-size="6.3" font-weight="normal" text-anchor="start" dominant-baseline="central" fill="#1e1e1e" stroke="#1e1e1e" stroke-width="0.15">0.2</text>
<text x="24.4" y="359.2" font-family="'Liberation Sans', sans-serif" font-size="6.3" font-weight="normal" text-anchor="end" dominant-baseline="central" fill="#1e1e1e" stroke="#1e1e1e" stroke-width="0.15">0.7</text>
<text x="234.1" y="359.2" font-family="'Liberation Sans', sans-serif" font-size="6.3" font-weight="normal" text-anchor="start" dominant-baseline="central" fill="#1e1e1e" stroke="#1e1e1e" stroke-width="0.15">0.7</text>
<text x="24.4" y="325.1" font-family="'Liberation Sans', sans-serif" font-size="6.3" font-weight="normal" text-anchor="end" dominant-baseline="central" fill="#1e1e1e" stroke="#1e1e1e" stroke-width="0.15">1.2</text>
<text x="234.1" y="325.1" font-family="'Liberation Sans', sans-serif" font-size="6.3" font-weight="normal" text-anchor="start" dominant-baseline="central" fill="#1e1e1e" stroke="#1e1e1e" stroke-width="0.15">1.2</text>
<text x="24.4" y="291" font-family="'Liberation Sans', sans-serif" font-size="6.3" font-weight="normal" text-anchor="end" dominant-baseline="central" fill="#1e1e1e" stroke="#1e1e1e" stroke-width="0.15">1.7</text>
<text x="234.1" y="291" font-family="'Liberation Sans', sans-serif" font-size="6.3" font-weight="normal" text-anchor="start" dominant-baseline="central" fill="#1e1e1e" stroke="#1e1e1e" stroke-width="0.15">1.7</text>
<text x="24.4" y="256.9" font-family="'Liberation Sans', sans-serif" font-size="6.3" font-weight="normal" text-anchor="end" dominant-baseline="central" fill="#1e1e1e" stroke="#1e1e1e" stroke-width="0.15">2.2</text>
<text x="234.1" y="256.9" font-family="'Liberation Sans', sans-serif" font-size="6.3" font-weight="normal" text-anchor="start" dominant-baseline="central" fill="#1e1e1e" stroke="#1e1e1e" stroke-width="0.15">2.2</text>
<text x="126.4" y="223.1" font-family="'Liberation Sans', sans-serif" font-size="8.3" font-weight="bold" text-anchor="middle" dominant-baseline="central" fill="#111">Production of 177Lu</text>
<text x="129.6" y="416.5" font-family="'Liberation Sans', sans-serif" font-size="6.7" font-weight="bold" text-anchor="middle" dominant-baseline="central" fill="#151515">Energy [MeV]</text>
<text x="9.3" y="318.5" font-family="'Liberation Sans', sans-serif" font-size="6.85" font-weight="bold" text-anchor="middle" dominant-baseline="central" fill="#151515" transform="rotate(-90 9.3 318.5)">Cross Section [mb]</text>
<text x="0" y="0" font-family="'Liberation Serif', serif" font-size="11.0" font-weight="normal" text-anchor="middle" dominant-baseline="central" fill="#151515" transform="translate(138.45 430.8) scale(0.98 1)" stroke="#151515" stroke-width="0.2">(c)</text>
</g>
<g>
<clipPath id="cpc"><rect x="29.5" y="243.3" width="200.2" height="150.0"/></clipPath>
<g clip-path="url(#cpc)">
<polyline points="93.28,393.3 98.14,376.25 103.86,352.38 109.58,325.1 115.3,305.32 129.6,290.52 143.9,305.32 158.2,323.33 172.5,342.83 186.8,353.74 201.1,366.22 215.4,374.61 229.7,383.21" fill="none" stroke="#d8934a" stroke-width="1.3" stroke-dasharray="1.2,0.6" stroke-linejoin="round"/>
<polygon points="115.3,302.92 117.7,307.12 112.9,307.12" fill="#c47c32"/>
<polygon points="129.6,288.12 132,292.32 127.2,292.32" fill="#c47c32"/>
<polygon points="143.9,302.92 146.3,307.12 141.5,307.12" fill="#c47c32"/>
<polygon points="158.2,320.93 160.6,325.13 155.8,325.13" fill="#c47c32"/>
<polygon points="172.5,340.43 174.9,344.63 170.1,344.63" fill="#c47c32"/>
<polygon points="186.8,351.34 189.2,355.54 184.4,355.54" fill="#c47c32"/>
<polygon points="201.1,363.82 203.5,368.02 198.7,368.02" fill="#c47c32"/>
<polygon points="215.4,372.21 217.8,376.41 213,376.41" fill="#c47c32"/>
<polygon points="229.7,380.81 232.1,385.01 227.3,385.01" fill="#c47c32"/>
<polyline points="56.67,392.28 63.82,376.25 70.97,357.84 79.84,370.11 88.7,378.3 97.57,383.41 103.86,384.43 109.58,385.12 115.3,385.59" fill="none" stroke="#5e8f2c" stroke-width="1.8" stroke-dasharray="3,1,1,1" stroke-linejoin="round"/>
<polygon points="63.82,374.33 65.74,377.69 61.9,377.69" fill="#5a8a2a"/>
<polygon points="70.97,355.92 72.89,359.28 69.05,359.28" fill="#5a8a2a"/>
<polygon points="79.84,368.19 81.76,371.55 77.92,371.55" fill="#5a8a2a"/>
<polygon points="88.7,376.38 90.62,379.74 86.78,379.74" fill="#5a8a2a"/>
<polygon points="97.57,381.49 99.49,384.85 95.65,384.85" fill="#5a8a2a"/>
<polygon points="103.86,382.51 105.78,385.87 101.94,385.87" fill="#5a8a2a"/>
<polygon points="109.58,383.2 111.5,386.56 107.66,386.56" fill="#5a8a2a"/>
<polygon points="115.3,383.67 117.22,387.03 113.38,387.03" fill="#5a8a2a"/>
<polyline points="56.67,392.28 63.82,372.84 72.4,352.38 81.84,366.43 90.13,374.48 99,381.91 106.72,384.09 115.3,384.91" fill="none" stroke="#efd600" stroke-width="2.1" stroke-dasharray="1.2,0.8" stroke-linejoin="round"/>
<polygon points="63.82,374.28 65.26,371.76 62.38,371.76" fill="#e8c800"/>
<polygon points="72.4,353.82 73.84,351.3 70.96,351.3" fill="#e8c800"/>
<polygon points="81.84,367.87 83.28,365.35 80.4,365.35" fill="#e8c800"/>
<polygon points="90.13,375.92 91.57,373.4 88.69,373.4" fill="#e8c800"/>
<polygon points="99,383.35 100.44,380.83 97.56,380.83" fill="#e8c800"/>
<polygon points="106.72,385.53 108.16,383.01 105.28,383.01" fill="#e8c800"/>
<polygon points="115.3,386.35 116.74,383.83 113.86,383.83" fill="#e8c800"/>
<polyline points="94.99,393.3 98.14,384.43 99.57,372.84 103.29,355.79 108.72,327.15 109.87,323.74 114.73,305.32 115.59,303.28" fill="none" stroke="#e2481c" stroke-width="2.2" stroke-dasharray="3,1.5" stroke-linejoin="round"/>
<circle cx="98.14" cy="384.43" r="1.6" fill="#d63e14"/>
<circle cx="99.57" cy="372.84" r="1.6" fill="#d63e14"/>
<circle cx="103.29" cy="355.79" r="1.6" fill="#d63e14"/>
<circle cx="108.72" cy="327.15" r="1.6" fill="#d63e14"/>
<circle cx="109.87" cy="323.74" r="1.6" fill="#d63e14"/>
<circle cx="114.73" cy="305.32" r="1.6" fill="#d63e14"/>
<circle cx="115.59" cy="303.28" r="1.6" fill="#d63e14"/>
</g>
<polyline points="137.3,264.6 169.4,264.6" fill="none" stroke="#e2501f" stroke-width="1.8" stroke-dasharray="3.5,2.5" stroke-linejoin="round"/>
<circle cx="153.5" cy="264.6" r="1.5" fill="#c8400f"/>
<polyline points="137.3,271.9 169.4,271.9" fill="none" stroke="#d98c3c" stroke-width="1.3" stroke-dasharray="1,0.7" stroke-linejoin="round"/>
<circle cx="153.5" cy="271.9" r="1.5" fill="#c0702a"/>
<polyline points="137.3,279 169.4,279" fill="none" stroke="#efd000" stroke-width="1.6" stroke-dasharray="1,0.7" stroke-linejoin="round"/>
<circle cx="153.5" cy="279" r="1.4" fill="#e0bc00"/>
<polyline points="137.3,285.8 169.4,285.8" fill="none" stroke="#5e8f2c" stroke-width="1.5" stroke-dasharray="3,1.5,1,1.5" stroke-linejoin="round"/>
<polygon points="153.5,284 155.3,287.15 151.7,287.15" fill="#4f7f24"/>
<text x="171.3" y="264.6" font-family="'Liberation Sans', sans-serif" font-size="4.7" font-weight="normal" text-anchor="start" dominant-baseline="central" fill="#303030" stroke="#303030" stroke-width="0.12">174Yb(a,p),TENDL-2019</text>
<text x="171.3" y="271.9" font-family="'Liberation Sans', sans-serif" font-size="4.7" font-weight="normal" text-anchor="start" dominant-baseline="central" fill="#303030" stroke="#303030" stroke-width="0.12">174Yb(a,p),TALYS-1.9</text>
<text x="171.3" y="279" font-family="'Liberation Sans', sans-serif" font-size="4.7" font-weight="normal" text-anchor="start" dominant-baseline="central" fill="#303030" stroke="#303030" stroke-width="0.12">176Yb(p,g),TALYS-1.9</text>
<text x="171.3" y="285.8" font-family="'Liberation Sans', sans-serif" font-size="4.7" font-weight="normal" text-anchor="start" dominant-baseline="central" fill="#303030" stroke="#303030" stroke-width="0.12">176Yb(p,g),TENDL-2019</text>
</g>
<g>
<line x1="303.1" y1="392.5" x2="303.1" y2="394.5" stroke="#c8c8c8" stroke-width="0.8"/>
<line x1="303.1" y1="242.8" x2="303.1" y2="240.8" stroke="#c8c8c8" stroke-width="0.8"/>
<line x1="308.11" y1="392.5" x2="308.11" y2="390.5" stroke="#c8c8c8" stroke-width="0.8"/>
<line x1="308.11" y1="242.8" x2="308.11" y2="244.8" stroke="#c8c8c8" stroke-width="0.8"/>
<line x1="313.12" y1="392.5" x2="313.12" y2="390.5" stroke="#c8c8c8" stroke-width="0.8"/>
<line x1="313.12" y1="242.8" x2="313.12" y2="244.8" stroke="#c8c8c8" stroke-width="0.8"/>
<line x1="318.12" y1="392.5" x2="318.12" y2="390.5" stroke="#c8c8c8" stroke-width="0.8"/>
<line x1="318.12" y1="242.8" x2="318.12" y2="244.8" stroke="#c8c8c8" stroke-width="0.8"/>
<line x1="323.13" y1="392.5" x2="323.13" y2="394.5" stroke="#c8c8c8" stroke-width="0.8"/>
<line x1="323.13" y1="242.8" x2="323.13" y2="240.8" stroke="#c8c8c8" stroke-width="0.8"/>
<line x1="328.14" y1="392.5" x2="328.14" y2="390.5" stroke="#c8c8c8" stroke-width="0.8"/>
<line x1="328.14" y1="242.8" x2="328.14" y2="244.8" stroke="#c8c8c8" stroke-width="0.8"/>
<line x1="333.15" y1="392.5" x2="333.15" y2="390.5" stroke="#c8c8c8" stroke-width="0.8"/>
<line x1="333.15" y1="242.8" x2="333.15" y2="244.8" stroke="#c8c8c8" stroke-width="0.8"/>
<line x1="338.15" y1="392.5" x2="338.15" y2="390.5" stroke="#c8c8c8" stroke-width="0.8"/>
<line x1="338.15" y1="242.8" x2="338.15" y2="244.8" stroke="#c8c8c8" stroke-width="0.8"/>
<line x1="343.16" y1="392.5" x2="343.16" y2="394.5" stroke="#c8c8c8" stroke-width="0.8"/>
<line x1="343.16" y1="242.8" x2="343.16" y2="240.8" stroke="#c8c8c8" stroke-width="0.8"/>
<line x1="348.17" y1="392.5" x2="348.17" y2="390.5" stroke="#c8c8c8" stroke-width="0.8"/>
<line x1="348.17" y1="242.8" x2="348.17" y2="244.8" stroke="#c8c8c8" stroke-width="0.8"/>
<line x1="353.18" y1="392.5" x2="353.18" y2="390.5" stroke="#c8c8c8" stroke-width="0.8"/>
<line x1="353.18" y1="242.8" x2="353.18" y2="244.8" stroke="#c8c8c8" stroke-width="0.8"/>
<line x1="358.18" y1="392.5" x2="358.18" y2="390.5" stroke="#c8c8c8" stroke-width="0.8"/>
<line x1="358.18" y1="242.8" x2="358.18" y2="244.8" stroke="#c8c8c8" stroke-width="0.8"/>
<line x1="363.19" y1="392.5" x2="363.19" y2="394.5" stroke="#c8c8c8" stroke-width="0.8"/>
<line x1="363.19" y1="242.8" x2="363.19" y2="240.8" stroke="#c8c8c8" stroke-width="0.8"/>
<line x1="368.2" y1="392.5" x2="368.2" y2="390.5" stroke="#c8c8c8" stroke-width="0.8"/>
<line x1="368.2" y1="242.8" x2="368.2" y2="244.8" stroke="#c8c8c8" stroke-width="0.8"/>
<line x1="373.21" y1="392.5" x2="373.21" y2="390.5" stroke="#c8c8c8" stroke-width="0.8"/>
<line x1="373.21" y1="242.8" x2="373.21" y2="244.8" stroke="#c8c8c8" stroke-width="0.8"/>
<line x1="378.21" y1="392.5" x2="378.21" y2="390.5" stroke="#c8c8c8" stroke-width="0.8"/>
<line x1="378.21" y1="242.8" x2="378.21" y2="244.8" stroke="#c8c8c8" stroke-width="0.8"/>
<line x1="383.22" y1="392.5" x2="383.22" y2="394.5" stroke="#c8c8c8" stroke-width="0.8"/>
<line x1="383.22" y1="242.8" x2="383.22" y2="240.8" stroke="#c8c8c8" stroke-width="0.8"/>
<line x1="388.23" y1="392.5" x2="388.23" y2="390.5" stroke="#c8c8c8" stroke-width="0.8"/>
<line x1="388.23" y1="242.8" x2="388.23" y2="244.8" stroke="#c8c8c8" stroke-width="0.8"/>
<line x1="393.24" y1="392.5" x2="393.24" y2="390.5" stroke="#c8c8c8" stroke-width="0.8"/>
<line x1="393.24" y1="242.8" x2="393.24" y2="244.8" stroke="#c8c8c8" stroke-width="0.8"/>
<line x1="398.24" y1="392.5" x2="398.24" y2="390.5" stroke="#c8c8c8" stroke-width="0.8"/>
<line x1="398.24" y1="242.8" x2="398.24" y2="244.8" stroke="#c8c8c8" stroke-width="0.8"/>
<line x1="403.25" y1="392.5" x2="403.25" y2="394.5" stroke="#c8c8c8" stroke-width="0.8"/>
<line x1="403.25" y1="242.8" x2="403.25" y2="240.8" stroke="#c8c8c8" stroke-width="0.8"/>
<line x1="408.26" y1="392.5" x2="408.26" y2="390.5" stroke="#c8c8c8" stroke-width="0.8"/>
<line x1="408.26" y1="242.8" x2="408.26" y2="244.8" stroke="#c8c8c8" stroke-width="0.8"/>
<line x1="413.27" y1="392.5" x2="413.27" y2="390.5" stroke="#c8c8c8" stroke-width="0.8"/>
<line x1="413.27" y1="242.8" x2="413.27" y2="244.8" stroke="#c8c8c8" stroke-width="0.8"/>
<line x1="418.27" y1="392.5" x2="418.27" y2="390.5" stroke="#c8c8c8" stroke-width="0.8"/>
<line x1="418.27" y1="242.8" x2="418.27" y2="244.8" stroke="#c8c8c8" stroke-width="0.8"/>
<line x1="423.28" y1="392.5" x2="423.28" y2="394.5" stroke="#c8c8c8" stroke-width="0.8"/>
<line x1="423.28" y1="242.8" x2="423.28" y2="240.8" stroke="#c8c8c8" stroke-width="0.8"/>
<line x1="428.29" y1="392.5" x2="428.29" y2="390.5" stroke="#c8c8c8" stroke-width="0.8"/>
<line x1="428.29" y1="242.8" x2="428.29" y2="244.8" stroke="#c8c8c8" stroke-width="0.8"/>
<line x1="433.3" y1="392.5" x2="433.3" y2="390.5" stroke="#c8c8c8" stroke-width="0.8"/>
<line x1="433.3" y1="242.8" x2="433.3" y2="244.8" stroke="#c8c8c8" stroke-width="0.8"/>
<line x1="438.3" y1="392.5" x2="438.3" y2="390.5" stroke="#c8c8c8" stroke-width="0.8"/>
<line x1="438.3" y1="242.8" x2="438.3" y2="244.8" stroke="#c8c8c8" stroke-width="0.8"/>
<line x1="443.31" y1="392.5" x2="443.31" y2="394.5" stroke="#c8c8c8" stroke-width="0.8"/>
<line x1="443.31" y1="242.8" x2="443.31" y2="240.8" stroke="#c8c8c8" stroke-width="0.8"/>
<line x1="448.32" y1="392.5" x2="448.32" y2="390.5" stroke="#c8c8c8" stroke-width="0.8"/>
<line x1="448.32" y1="242.8" x2="448.32" y2="244.8" stroke="#c8c8c8" stroke-width="0.8"/>
<line x1="453.33" y1="392.5" x2="453.33" y2="390.5" stroke="#c8c8c8" stroke-width="0.8"/>
<line x1="453.33" y1="242.8" x2="453.33" y2="244.8" stroke="#c8c8c8" stroke-width="0.8"/>
<line x1="458.33" y1="392.5" x2="458.33" y2="390.5" stroke="#c8c8c8" stroke-width="0.8"/>
<line x1="458.33" y1="242.8" x2="458.33" y2="244.8" stroke="#c8c8c8" stroke-width="0.8"/>
<line x1="463.34" y1="392.5" x2="463.34" y2="394.5" stroke="#c8c8c8" stroke-width="0.8"/>
<line x1="463.34" y1="242.8" x2="463.34" y2="240.8" stroke="#c8c8c8" stroke-width="0.8"/>
<line x1="468.35" y1="392.5" x2="468.35" y2="390.5" stroke="#c8c8c8" stroke-width="0.8"/>
<line x1="468.35" y1="242.8" x2="468.35" y2="244.8" stroke="#c8c8c8" stroke-width="0.8"/>
<line x1="473.36" y1="392.5" x2="473.36" y2="390.5" stroke="#c8c8c8" stroke-width="0.8"/>
<line x1="473.36" y1="242.8" x2="473.36" y2="244.8" stroke="#c8c8c8" stroke-width="0.8"/>
<line x1="478.36" y1="392.5" x2="478.36" y2="390.5" stroke="#c8c8c8" stroke-width="0.8"/>
<line x1="478.36" y1="242.8" x2="478.36" y2="244.8" stroke="#c8c8c8" stroke-width="0.8"/>
<line x1="483.37" y1="392.5" x2="483.37" y2="394.5" stroke="#c8c8c8" stroke-width="0.8"/>
<line x1="483.37" y1="242.8" x2="483.37" y2="240.8" stroke="#c8c8c8" stroke-width="0.8"/>
<line x1="488.38" y1="392.5" x2="488.38" y2="390.5" stroke="#c8c8c8" stroke-width="0.8"/>
<line x1="488.38" y1="242.8" x2="488.38" y2="244.8" stroke="#c8c8c8" stroke-width="0.8"/>
<line x1="493.39" y1="392.5" x2="493.39" y2="390.5" stroke="#c8c8c8" stroke-width="0.8"/>
<line x1="493.39" y1="242.8" x2="493.39" y2="244.8" stroke="#c8c8c8" stroke-width="0.8"/>
<line x1="498.39" y1="392.5" x2="498.39" y2="390.5" stroke="#c8c8c8" stroke-width="0.8"/>
<line x1="498.39" y1="242.8" x2="498.39" y2="244.8" stroke="#c8c8c8" stroke-width="0.8"/>
<line x1="503.4" y1="392.5" x2="503.4" y2="394.5" stroke="#c8c8c8" stroke-width="0.8"/>
<line x1="503.4" y1="242.8" x2="503.4" y2="240.8" stroke="#c8c8c8" stroke-width="0.8"/>
<line x1="303.1" y1="369.97" x2="305.1" y2="369.97" stroke="#c8c8c8" stroke-width="0.8"/>
<line x1="503.4" y1="369.97" x2="501.4" y2="369.97" stroke="#c8c8c8" stroke-width="0.8"/>
<line x1="303.1" y1="356.79" x2="305.1" y2="356.79" stroke="#c8c8c8" stroke-width="0.8"/>
<line x1="503.4" y1="356.79" x2="501.4" y2="356.79" stroke="#c8c8c8" stroke-width="0.8"/>
<line x1="303.1" y1="347.44" x2="305.1" y2="347.44" stroke="#c8c8c8" stroke-width="0.8"/>
<line x1="503.4" y1="347.44" x2="501.4" y2="347.44" stroke="#c8c8c8" stroke-width="0.8"/>
<line x1="303.1" y1="340.18" x2="305.1" y2="340.18" stroke="#c8c8c8" stroke-width="0.8"/>
<line x1="503.4" y1="340.18" x2="501.4" y2="340.18" stroke="#c8c8c8" stroke-width="0.8"/>
<line x1="303.1" y1="334.26" x2="305.1" y2="334.26" stroke="#c8c8c8" stroke-width="0.8"/>
<line x1="503.4" y1="334.26" x2="501.4" y2="334.26" stroke="#c8c8c8" stroke-width="0.8"/>
<line x1="303.1" y1="329.24" x2="305.1" y2="329.24" stroke="#c8c8c8" stroke-width="0.8"/>
<line x1="503.4" y1="329.24" x2="501.4" y2="329.24" stroke="#c8c8c8" stroke-width="0.8"/>
<line x1="303.1" y1="324.9" x2="305.1" y2="324.9" stroke="#c8c8c8" stroke-width="0.8"/>
<line x1="503.4" y1="324.9" x2="501.4" y2="324.9" stroke="#c8c8c8" stroke-width="0.8"/>
<line x1="303.1" y1="321.07" x2="305.1" y2="321.07" stroke="#c8c8c8" stroke-width="0.8"/>
<line x1="503.4" y1="321.07" x2="501.4" y2="321.07" stroke="#c8c8c8" stroke-width="0.8"/>
<line x1="303.1" y1="295.12" x2="305.1" y2="295.12" stroke="#c8c8c8" stroke-width="0.8"/>
<line x1="503.4" y1="295.12" x2="501.4" y2="295.12" stroke="#c8c8c8" stroke-width="0.8"/>
<line x1="303.1" y1="281.94" x2="305.1" y2="281.94" stroke="#c8c8c8" stroke-width="0.8"/>
<line x1="503.4" y1="281.94" x2="501.4" y2="281.94" stroke="#c8c8c8" stroke-width="0.8"/>
<line x1="303.1" y1="272.59" x2="305.1" y2="272.59" stroke="#c8c8c8" stroke-width="0.8"/>
<line x1="503.4" y1="272.59" x2="501.4" y2="272.59" stroke="#c8c8c8" stroke-width="0.8"/>
<line x1="303.1" y1="265.33" x2="305.1" y2="265.33" stroke="#c8c8c8" stroke-width="0.8"/>
<line x1="503.4" y1="265.33" x2="501.4" y2="265.33" stroke="#c8c8c8" stroke-width="0.8"/>
<line x1="303.1" y1="259.41" x2="305.1" y2="259.41" stroke="#c8c8c8" stroke-width="0.8"/>
<line x1="503.4" y1="259.41" x2="501.4" y2="259.41" stroke="#c8c8c8" stroke-width="0.8"/>
<line x1="303.1" y1="254.39" x2="305.1" y2="254.39" stroke="#c8c8c8" stroke-width="0.8"/>
<line x1="503.4" y1="254.39" x2="501.4" y2="254.39" stroke="#c8c8c8" stroke-width="0.8"/>
<line x1="303.1" y1="250.05" x2="305.1" y2="250.05" stroke="#c8c8c8" stroke-width="0.8"/>
<line x1="503.4" y1="250.05" x2="501.4" y2="250.05" stroke="#c8c8c8" stroke-width="0.8"/>
<line x1="303.1" y1="246.22" x2="305.1" y2="246.22" stroke="#c8c8c8" stroke-width="0.8"/>
<line x1="503.4" y1="246.22" x2="501.4" y2="246.22" stroke="#c8c8c8" stroke-width="0.8"/>
<line x1="300.1" y1="392.5" x2="303.1" y2="392.5" stroke="#c8c8c8" stroke-width="0.8"/>
<line x1="503.4" y1="392.5" x2="506.4" y2="392.5" stroke="#c8c8c8" stroke-width="0.8"/>
<line x1="300.1" y1="317.65" x2="303.1" y2="317.65" stroke="#c8c8c8" stroke-width="0.8"/>
<line x1="503.4" y1="317.65" x2="506.4" y2="317.65" stroke="#c8c8c8" stroke-width="0.8"/>
<line x1="300.1" y1="242.8" x2="303.1" y2="242.8" stroke="#c8c8c8" stroke-width="0.8"/>
<line x1="503.4" y1="242.8" x2="506.4" y2="242.8" stroke="#c8c8c8" stroke-width="0.8"/>
<rect x="303.1" y="242.8" width="200.3" height="149.7" fill="none" stroke="#c2c2c2" stroke-width="1"/>
<text x="303.1" y="233.8" font-family="'Liberation Sans', sans-serif" font-size="6.3" font-weight="normal" text-anchor="middle" dominant-baseline="central" fill="#1e1e1e" stroke="#1e1e1e" stroke-width="0.15">0</text>
<text x="303.1" y="401.7" font-family="'Liberation Sans', sans-serif" font-size="6.3" font-weight="normal" text-anchor="middle" dominant-baseline="central" fill="#1e1e1e" stroke="#1e1e1e" stroke-width="0.15">0</text>
<text x="323.13" y="233.8" font-family="'Liberation Sans', sans-serif" font-size="6.3" font-weight="normal" text-anchor="middle" dominant-baseline="central" fill="#1e1e1e" stroke="#1e1e1e" stroke-width="0.15">20</text>
<text x="323.13" y="401.7" font-family="'Liberation Sans', sans-serif" font-size="6.3" font-weight="normal" text-anchor="middle" dominant-baseline="central" fill="#1e1e1e" stroke="#1e1e1e" stroke-width="0.15">20</text>
<text x="343.16" y="233.8" font-family="'Liberation Sans', sans-serif" font-size="6.3" font-weight="normal" text-anchor="middle" dominant-baseline="central" fill="#1e1e1e" stroke="#1e1e1e" stroke-width="0.15">40</text>
<text x="343.16" y="401.7" font-family="'Liberation Sans', sans-serif" font-size="6.3" font-weight="normal" text-anchor="middle" dominant-baseline="central" fill="#1e1e1e" stroke="#1e1e1e" stroke-width="0.15">40</text>
<text x="363.19" y="233.8" font-family="'Liberation Sans', sans-serif" font-size="6.3" font-weight="normal" text-anchor="middle" dominant-baseline="central" fill="#1e1e1e" stroke="#1e1e1e" stroke-width="0.15">60</text>
<text x="363.19" y="401.7" font-family="'Liberation Sans', sans-serif" font-size="6.3" font-weight="normal" text-anchor="middle" dominant-baseline="central" fill="#1e1e1e" stroke="#1e1e1e" stroke-width="0.15">60</text>
<text x="383.22" y="233.8" font-family="'Liberation Sans', sans-serif" font-size="6.3" font-weight="normal" text-anchor="middle" dominant-baseline="central" fill="#1e1e1e" stroke="#1e1e1e" stroke-width="0.15">80</text>
<text x="383.22" y="401.7" font-family="'Liberation Sans', sans-serif" font-size="6.3" font-weight="normal" text-anchor="middle" dominant-baseline="central" fill="#1e1e1e" stroke="#1e1e1e" stroke-width="0.15">80</text>
<text x="403.25" y="233.8" font-family="'Liberation Sans', sans-serif" font-size="6.3" font-weight="normal" text-anchor="middle" dominant-baseline="central" fill="#1e1e1e" stroke="#1e1e1e" stroke-width="0.15">100</text>
<text x="403.25" y="401.7" font-family="'Liberation Sans', sans-serif" font-size="6.3" font-weight="normal" text-anchor="middle" dominant-baseline="central" fill="#1e1e1e" stroke="#1e1e1e" stroke-width="0.15">100</text>
<text x="423.28" y="233.8" font-family="'Liberation Sans', sans-serif" font-size="6.3" font-weight="normal" text-anchor="middle" dominant-baseline="central" fill="#1e1e1e" stroke="#1e1e1e" stroke-width="0.15">120</text>
<text x="423.28" y="401.7" font-family="'Liberation Sans', sans-serif" font-size="6.3" font-weight="normal" text-anchor="middle" dominant-baseline="central" fill="#1e1e1e" stroke="#1e1e1e" stroke-width="0.15">120</text>
<text x="443.31" y="233.8" font-family="'Liberation Sans', sans-serif" font-size="6.3" font-weight="normal" text-anchor="middle" dominant-baseline="central" fill="#1e1e1e" stroke="#1e1e1e" stroke-width="0.15">140</text>
<text x="443.31" y="401.7" font-family="'Liberation Sans', sans-serif" font-size="6.3" font-weight="normal" text-anchor="middle" dominant-baseline="central" fill="#1e1e1e" stroke="#1e1e1e" stroke-width="0.15">140</text>
<text x="463.34" y="233.8" font-family="'Liberation Sans', sans-serif" font-size="6.3" font-weight="normal" text-anchor="middle" dominant-baseline="central" fill="#1e1e1e" stroke="#1e1e1e" stroke-width="0.15">160</text>
<text x="463.34" y="401.7" font-family="'Liberation Sans', sans-serif" font-size="6.3" font-weight="normal" text-anchor="middle" dominant-baseline="central" fill="#1e1e1e" stroke="#1e1e1e" stroke-width="0.15">160</text>
<text x="483.37" y="233.8" font-family="'Liberation Sans', sans-serif" font-size="6.3" font-weight="normal" text-anchor="middle" dominant-baseline="central" fill="#1e1e1e" stroke="#1e1e1e" stroke-width="0.15">180</text>
<text x="483.37" y="401.7" font-family="'Liberation Sans', sans-serif" font-size="6.3" font-weight="normal" text-anchor="middle" dominant-baseline="central" fill="#1e1e1e" stroke="#1e1e1e" stroke-width="0.15">180</text>
<text x="503.4" y="233.8" font-family="'Liberation Sans', sans-serif" font-size="6.3" font-weight="normal" text-anchor="middle" dominant-baseline="central" fill="#1e1e1e" stroke="#1e1e1e" stroke-width="0.15">200</text>
<text x="503.4" y="401.7" font-family="'Liberation Sans', sans-serif" font-size="6.3" font-weight="normal" text-anchor="middle" dominant-baseline="central" fill="#1e1e1e" stroke="#1e1e1e" stroke-width="0.15">200</text>
<text x="298.5" y="392.5" font-family="'Liberation Sans', sans-serif" font-size="6.3" font-weight="normal" text-anchor="end" dominant-baseline="central" fill="#1e1e1e" stroke="#1e1e1e" stroke-width="0.15">1</text>
<text x="508.2" y="392.5" font-family="'Liberation Sans', sans-serif" font-size="6.3" font-weight="normal" text-anchor="start" dominant-baseline="central" fill="#1e1e1e" stroke="#1e1e1e" stroke-width="0.15">1</text>
<text x="298.5" y="317.65" font-family="'Liberation Sans', sans-serif" font-size="6.3" font-weight="normal" text-anchor="end" dominant-baseline="central" fill="#1e1e1e" stroke="#1e1e1e" stroke-width="0.15">10</text>
<text x="508.2" y="317.65" font-family="'Liberation Sans', sans-serif" font-size="6.3" font-weight="normal" text-anchor="start" dominant-baseline="central" fill="#1e1e1e" stroke="#1e1e1e" stroke-width="0.15">10</text>
<text x="298.5" y="242.8" font-family="'Liberation Sans', sans-serif" font-size="6.3" font-weight="normal" text-anchor="end" dominant-baseline="central" fill="#1e1e1e" stroke="#1e1e1e" stroke-width="0.15">100</text>
<text x="508.2" y="242.8" font-family="'Liberation Sans', sans-serif" font-size="6.3" font-weight="normal" text-anchor="start" dominant-baseline="central" fill="#1e1e1e" stroke="#1e1e1e" stroke-width="0.15">100</text>
<text x="408.8" y="217" font-family="'Liberation Sans', sans-serif" font-size="8.3" font-weight="bold" text-anchor="middle" dominant-baseline="central" fill="#111">Production of 177Lu</text>
<text x="405.2" y="416.7" font-family="'Liberation Sans', sans-serif" font-size="6.75" font-weight="bold" text-anchor="middle" dominant-baseline="central" fill="#151515" xml:space="preserve">Energy  [MeV]</text>
<text x="284.1" y="314.8" font-family="'Liberation Sans', sans-serif" font-size="7.0" font-weight="bold" text-anchor="middle" dominant-baseline="central" fill="#151515" transform="rotate(-90 284.1 314.8)">Cross Section (mb)</text>
<text x="0" y="0" font-family="'Liberation Serif', serif" font-size="11.0" font-weight="normal" text-anchor="middle" dominant-baseline="central" fill="#151515" transform="translate(404.45 431.3) scale(0.98 1)" stroke="#151515" stroke-width="0.2">(d)</text>
</g>
<g>
<polyline points="331.34,392.5 333.35,372.33 337.85,328.01 342.96,296.61 347.87,285.73 352.97,282.93 357.88,283.38 362.99,287.99 367.9,289.19 373,294.79 377.91,296.28 383.02,300.02 387.93,301.97 393.03,305.8 397.94,307.18 402.95,309.37 412.96,314.26 422.98,318.64 433.3,323.71 443.31,327.44 453.33,335.92 463.34,337.08 473.36,339.54 483.37,340.84 493.39,342.19 503.4,344.34" fill="none" stroke="#2c4a7e" stroke-width="1.4" stroke-linejoin="round"/>
<rect x="331.75" y="370.73" width="3.2" height="3.2" fill="#1c3a6a"/>
<rect x="336.25" y="326.41" width="3.2" height="3.2" fill="#1c3a6a"/>
<rect x="341.36" y="295.01" width="3.2" height="3.2" fill="#1c3a6a"/>
<rect x="346.27" y="284.13" width="3.2" height="3.2" fill="#1c3a6a"/>
<rect x="351.37" y="281.33" width="3.2" height="3.2" fill="#1c3a6a"/>
<rect x="356.28" y="281.78" width="3.2" height="3.2" fill="#1c3a6a"/>
<rect x="361.39" y="286.39" width="3.2" height="3.2" fill="#1c3a6a"/>
<rect x="366.3" y="287.59" width="3.2" height="3.2" fill="#1c3a6a"/>
<rect x="371.4" y="293.19" width="3.2" height="3.2" fill="#1c3a6a"/>
<rect x="376.31" y="294.68" width="3.2" height="3.2" fill="#1c3a6a"/>
<rect x="381.42" y="298.42" width="3.2" height="3.2" fill="#1c3a6a"/>
<rect x="386.33" y="300.37" width="3.2" height="3.2" fill="#1c3a6a"/>
<rect x="391.43" y="304.2" width="3.2" height="3.2" fill="#1c3a6a"/>
<rect x="396.34" y="305.58" width="3.2" height="3.2" fill="#1c3a6a"/>
<rect x="401.35" y="307.77" width="3.2" height="3.2" fill="#1c3a6a"/>
<rect x="411.36" y="312.66" width="3.2" height="3.2" fill="#1c3a6a"/>
<rect x="421.38" y="317.04" width="3.2" height="3.2" fill="#1c3a6a"/>
<rect x="431.69" y="322.11" width="3.2" height="3.2" fill="#1c3a6a"/>
<rect x="441.71" y="325.84" width="3.2" height="3.2" fill="#1c3a6a"/>
<rect x="451.73" y="334.32" width="3.2" height="3.2" fill="#1c3a6a"/>
<rect x="461.74" y="335.48" width="3.2" height="3.2" fill="#1c3a6a"/>
<rect x="471.75" y="337.94" width="3.2" height="3.2" fill="#1c3a6a"/>
<rect x="481.77" y="339.24" width="3.2" height="3.2" fill="#1c3a6a"/>
<rect x="491.79" y="340.59" width="3.2" height="3.2" fill="#1c3a6a"/>
<rect x="501.8" y="342.74" width="3.2" height="3.2" fill="#1c3a6a"/>
<polyline points="411.9,273.1 426,273.1" fill="none" stroke="#2c4a7e" stroke-width="1.4" stroke-linejoin="round"/>
<rect x="418.1" y="271.4" width="3.4" height="3.4" fill="#1c3a6a"/>
<text x="429.2" y="273.1" font-family="'Liberation Sans', sans-serif" font-size="5.72" font-weight="normal" text-anchor="start" dominant-baseline="central" fill="#333" stroke="#333" stroke-width="0.15">176Yb(a,t),TALYS-1.9</text>
</g>
</svg></body></html>
